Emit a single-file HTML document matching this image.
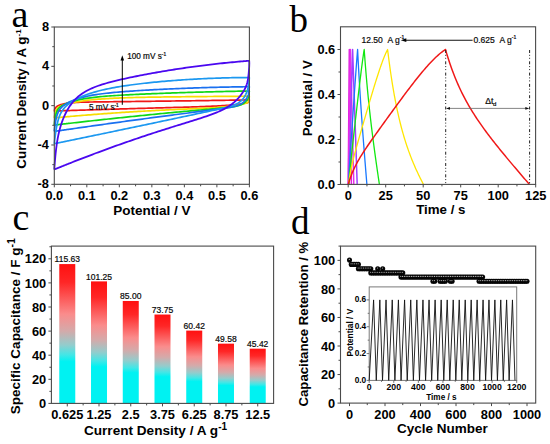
<!DOCTYPE html>
<html><head><meta charset="utf-8"><style>
html,body{margin:0;padding:0;background:#fff;width:550px;height:444px;overflow:hidden}
svg{display:block}
text{font-family:"Liberation Sans",sans-serif}
</style></head><body>
<svg width="550" height="444" viewBox="0 0 550 444">
<rect width="550" height="444" fill="#fff"/>
<path d="M54.30,110.86 L54.40,110.35 L54.50,110.03 L54.60,109.74 L54.70,109.47 L54.80,109.22 L54.90,108.98 L55.00,108.77 L55.10,108.57 L55.20,108.38 L55.30,108.21 L55.40,108.04 L55.50,107.89 L55.60,107.75 L55.70,107.62 L55.80,107.49 L55.90,107.37 L56.00,107.26 L56.10,107.15 L56.20,107.05 L56.30,106.95 L56.40,106.86 L56.50,106.77 L56.60,106.69 L56.70,106.61 L56.80,106.53 L56.90,106.46 L57.00,106.39 L57.10,106.32 L57.20,106.26 L57.30,106.19 L57.40,106.13 L57.50,106.07 L57.60,106.01 L57.70,105.96 L57.80,105.90 L57.90,105.85 L58.00,105.80 L58.10,105.74 L58.20,105.70 L58.30,105.65 L58.40,105.60 L58.50,105.55 L58.60,105.51 L58.70,105.46 L58.80,105.42 L58.90,105.38 L59.00,105.33 L59.10,105.29 L59.20,105.25 L59.30,105.21 L59.40,105.17 L59.50,105.13 L59.60,105.09 L59.70,105.06 L59.80,105.02 L59.90,104.98 L60.00,104.95 L60.10,104.91 L60.20,104.88 L60.30,104.84 L60.80,104.68 L61.30,104.52 L61.80,104.38 L62.30,104.24 L62.80,104.12 L63.30,103.99 L63.80,103.88 L64.30,103.78 L64.80,103.68 L65.30,103.58 L65.80,103.49 L66.30,103.41 L66.80,103.33 L67.30,103.25 L67.80,103.18 L68.30,103.12 L68.80,103.06 L69.30,103.00 L69.80,102.94 L70.30,102.89 L72.30,102.70 L74.30,102.56 L76.30,102.44 L78.30,102.34 L80.30,102.26 L82.30,102.20 L84.30,102.14 L86.30,102.09 L88.30,102.05 L90.30,102.02 L92.30,101.98 L94.30,101.95 L96.30,101.92 L98.30,101.90 L100.30,101.87 L102.30,101.85 L104.30,101.82 L106.30,101.80 L108.30,101.78 L110.30,101.76 L112.30,101.73 L114.30,101.71 L116.30,101.69 L118.30,101.67 L120.30,101.65 L122.30,101.62 L124.30,101.60 L126.30,101.58 L128.30,101.56 L130.30,101.53 L132.30,101.51 L134.30,101.49 L136.30,101.46 L138.30,101.44 L140.30,101.42 L142.30,101.39 L144.30,101.37 L146.30,101.35 L148.30,101.32 L150.30,101.30 L152.30,101.27 L154.30,101.25 L156.30,101.22 L158.30,101.20 L160.30,101.18 L162.30,101.15 L164.30,101.12 L166.30,101.10 L168.30,101.07 L170.30,101.05 L172.30,101.02 L174.30,101.00 L176.30,100.97 L178.30,100.94 L180.30,100.92 L182.30,100.89 L184.30,100.86 L186.30,100.84 L188.30,100.81 L190.30,100.78 L192.30,100.75 L194.30,100.73 L196.30,100.70 L198.30,100.67 L200.30,100.64 L202.30,100.61 L204.30,100.58 L206.30,100.56 L208.30,100.53 L210.30,100.50 L212.30,100.47 L214.30,100.44 L216.30,100.41 L218.30,100.38 L220.30,100.35 L222.30,100.32 L224.30,100.29 L226.30,100.26 L228.30,100.23 L230.30,100.20 L232.30,100.17 L234.30,100.14 L236.30,100.11 L238.30,100.07 L240.30,100.04 L240.80,100.04 L241.30,100.03 L241.80,100.02 L242.30,100.01 L242.80,100.00 L243.30,100.00 L243.80,99.99 L244.30,99.98 L244.80,99.97 L245.30,99.96 L245.80,99.96 L246.30,99.95 L246.80,99.94 L247.30,99.93 L247.40,99.93 L247.50,99.93 L247.60,99.93 L247.70,99.93 L247.80,99.92 L247.90,99.92 L248.00,99.92 L248.10,99.92 L248.20,99.92 L248.30,99.92 L248.40,99.91 L248.50,99.91 L248.60,99.91 L248.70,99.91 L248.80,99.91 L248.90,99.91 L249.00,99.90 L249.10,99.90 L249.20,99.90 L249.30,100.00 L249.20,100.54 L249.10,100.89 L249.00,101.19 L248.90,101.44 L248.80,101.64 L248.70,101.82 L248.60,101.96 L248.50,102.09 L248.40,102.19 L248.30,102.28 L248.20,102.36 L248.10,102.42 L248.00,102.48 L247.90,102.53 L247.80,102.58 L247.70,102.62 L247.60,102.66 L247.50,102.70 L247.40,102.73 L247.30,102.76 L246.80,102.89 L246.30,102.99 L245.80,103.10 L245.30,103.19 L244.80,103.28 L244.30,103.37 L243.80,103.46 L243.30,103.54 L242.80,103.63 L242.30,103.71 L241.80,103.78 L241.30,103.86 L240.80,103.93 L240.30,104.00 L238.30,104.27 L236.30,104.52 L234.30,104.74 L232.30,104.94 L230.30,105.12 L228.30,105.28 L226.30,105.43 L224.30,105.57 L222.30,105.70 L220.30,105.82 L218.30,105.93 L216.30,106.03 L214.30,106.13 L212.30,106.22 L210.30,106.31 L208.30,106.39 L206.30,106.47 L204.30,106.54 L202.30,106.61 L200.30,106.68 L198.30,106.75 L196.30,106.81 L194.30,106.88 L192.30,106.94 L190.30,107.00 L188.30,107.06 L186.30,107.12 L184.30,107.18 L182.30,107.23 L180.30,107.29 L178.30,107.35 L176.30,107.40 L174.30,107.46 L172.30,107.51 L170.30,107.57 L168.30,107.62 L166.30,107.68 L164.30,107.73 L162.30,107.79 L160.30,107.84 L158.30,107.90 L156.30,107.95 L154.30,108.01 L152.30,108.06 L150.30,108.12 L148.30,108.17 L146.30,108.23 L144.30,108.28 L142.30,108.34 L140.30,108.40 L138.30,108.45 L136.30,108.51 L134.30,108.57 L132.30,108.62 L130.30,108.68 L128.30,108.74 L126.30,108.79 L124.30,108.85 L122.30,108.91 L120.30,108.97 L118.30,109.03 L116.30,109.09 L114.30,109.15 L112.30,109.20 L110.30,109.26 L108.30,109.32 L106.30,109.38 L104.30,109.44 L102.30,109.51 L100.30,109.57 L98.30,109.63 L96.30,109.69 L94.30,109.75 L92.30,109.81 L90.30,109.87 L88.30,109.94 L86.30,110.00 L84.30,110.06 L82.30,110.13 L80.30,110.19 L78.30,110.25 L76.30,110.32 L74.30,110.38 L72.30,110.44 L70.30,110.51 L69.80,110.53 L69.30,110.54 L68.80,110.56 L68.30,110.57 L67.80,110.59 L67.30,110.61 L66.80,110.62 L66.30,110.64 L65.80,110.66 L65.30,110.67 L64.80,110.69 L64.30,110.70 L63.80,110.72 L63.30,110.74 L62.80,110.75 L62.30,110.77 L61.80,110.79 L61.30,110.80 L60.80,110.82 L60.30,110.84 L60.20,110.84 L60.10,110.84 L60.00,110.85 L59.90,110.85 L59.80,110.85 L59.70,110.86 L59.60,110.86 L59.50,110.86 L59.40,110.87 L59.30,110.87 L59.20,110.87 L59.10,110.88 L59.00,110.88 L58.90,110.88 L58.80,110.89 L58.70,110.89 L58.60,110.89 L58.50,110.90 L58.40,110.90 L58.30,110.90 L58.20,110.91 L58.10,110.91 L58.00,110.91 L57.90,110.92 L57.80,110.92 L57.70,110.92 L57.60,110.93 L57.50,110.93 L57.40,110.93 L57.30,110.94 L57.20,110.94 L57.10,110.94 L57.00,110.95 L56.90,110.95 L56.80,110.95 L56.70,110.96 L56.60,110.96 L56.50,110.96 L56.40,110.97 L56.30,110.97 L56.20,110.97 L56.10,110.98 L56.00,110.98 L55.90,110.98 L55.80,110.99 L55.70,110.99 L55.60,110.99 L55.50,111.00 L55.40,111.00 L55.30,111.00 L55.20,111.01 L55.10,111.01 L55.00,111.01 L54.90,111.02 L54.80,111.02 L54.70,111.02 L54.60,111.03 L54.50,111.03 L54.40,111.03 L54.30,110.86" fill="none" stroke="#f01818" stroke-width="1.7" stroke-linejoin="round" />
<path d="M54.30,117.91 L54.40,117.25 L54.50,116.63 L54.60,116.05 L54.70,115.50 L54.80,114.98 L54.90,114.50 L55.00,114.04 L55.10,113.61 L55.20,113.21 L55.30,112.82 L55.40,112.47 L55.50,112.13 L55.60,111.81 L55.70,111.51 L55.80,111.22 L55.90,110.96 L56.00,110.70 L56.10,110.46 L56.20,110.24 L56.30,110.02 L56.40,109.82 L56.50,109.63 L56.60,109.45 L56.70,109.27 L56.80,109.11 L56.90,108.95 L57.00,108.81 L57.10,108.66 L57.20,108.53 L57.30,108.40 L57.40,108.28 L57.50,108.16 L57.60,108.05 L57.70,107.95 L57.80,107.85 L57.90,107.75 L58.00,107.65 L58.10,107.57 L58.20,107.48 L58.30,107.40 L58.40,107.32 L58.50,107.24 L58.60,107.17 L58.70,107.09 L58.80,107.03 L58.90,106.96 L59.00,106.89 L59.10,106.83 L59.20,106.77 L59.30,106.71 L59.40,106.65 L59.50,106.60 L59.60,106.54 L59.70,106.49 L59.80,106.44 L59.90,106.39 L60.00,106.34 L60.10,106.29 L60.20,106.24 L60.30,106.20 L60.80,105.98 L61.30,105.78 L61.80,105.59 L62.30,105.41 L62.80,105.25 L63.30,105.08 L63.80,104.93 L64.30,104.78 L64.80,104.63 L65.30,104.48 L65.80,104.34 L66.30,104.21 L66.80,104.07 L67.30,103.94 L67.80,103.81 L68.30,103.68 L68.80,103.56 L69.30,103.44 L69.80,103.32 L70.30,103.20 L72.30,102.76 L74.30,102.35 L76.30,101.97 L78.30,101.61 L80.30,101.29 L82.30,100.98 L84.30,100.70 L86.30,100.44 L88.30,100.20 L90.30,99.97 L92.30,99.76 L94.30,99.57 L96.30,99.39 L98.30,99.22 L100.30,99.06 L102.30,98.91 L104.30,98.78 L106.30,98.65 L108.30,98.53 L110.30,98.42 L112.30,98.32 L114.30,98.22 L116.30,98.13 L118.30,98.05 L120.30,97.97 L122.30,97.89 L124.30,97.82 L126.30,97.75 L128.30,97.69 L130.30,97.63 L132.30,97.58 L134.30,97.52 L136.30,97.47 L138.30,97.43 L140.30,97.38 L142.30,97.34 L144.30,97.30 L146.30,97.26 L148.30,97.22 L150.30,97.19 L152.30,97.15 L154.30,97.12 L156.30,97.09 L158.30,97.06 L160.30,97.03 L162.30,97.00 L164.30,96.97 L166.30,96.95 L168.30,96.92 L170.30,96.90 L172.30,96.87 L174.30,96.85 L176.30,96.82 L178.30,96.80 L180.30,96.78 L182.30,96.76 L184.30,96.74 L186.30,96.72 L188.30,96.70 L190.30,96.68 L192.30,96.66 L194.30,96.64 L196.30,96.62 L198.30,96.60 L200.30,96.58 L202.30,96.56 L204.30,96.55 L206.30,96.53 L208.30,96.51 L210.30,96.49 L212.30,96.48 L214.30,96.46 L216.30,96.44 L218.30,96.43 L220.30,96.41 L222.30,96.39 L224.30,96.38 L226.30,96.36 L228.30,96.34 L230.30,96.33 L232.30,96.31 L234.30,96.30 L236.30,96.28 L238.30,96.26 L240.30,96.25 L240.80,96.25 L241.30,96.24 L241.80,96.24 L242.30,96.23 L242.80,96.23 L243.30,96.23 L243.80,96.22 L244.30,96.22 L244.80,96.21 L245.30,96.21 L245.80,96.21 L246.30,96.20 L246.80,96.20 L247.30,96.19 L247.40,96.19 L247.50,96.19 L247.60,96.19 L247.70,96.19 L247.80,96.19 L247.90,96.19 L248.00,96.19 L248.10,96.19 L248.20,96.19 L248.30,96.19 L248.40,96.19 L248.50,96.19 L248.60,96.18 L248.70,96.18 L248.80,96.18 L248.90,96.18 L249.00,96.18 L249.10,96.18 L249.20,96.18 L249.30,96.36 L249.20,97.59 L249.10,98.46 L249.00,99.17 L248.90,99.76 L248.80,100.24 L248.70,100.65 L248.60,100.99 L248.50,101.27 L248.40,101.51 L248.30,101.71 L248.20,101.88 L248.10,102.02 L248.00,102.14 L247.90,102.25 L247.80,102.35 L247.70,102.43 L247.60,102.50 L247.50,102.57 L247.40,102.63 L247.30,102.68 L246.80,102.90 L246.30,103.07 L245.80,103.23 L245.30,103.37 L244.80,103.51 L244.30,103.64 L243.80,103.77 L243.30,103.90 L242.80,104.02 L242.30,104.14 L241.80,104.25 L241.30,104.37 L240.80,104.48 L240.30,104.58 L238.30,104.98 L236.30,105.33 L234.30,105.65 L232.30,105.94 L230.30,106.20 L228.30,106.44 L226.30,106.65 L224.30,106.85 L222.30,107.02 L220.30,107.19 L218.30,107.34 L216.30,107.49 L214.30,107.62 L212.30,107.74 L210.30,107.86 L208.30,107.98 L206.30,108.08 L204.30,108.19 L202.30,108.29 L200.30,108.39 L198.30,108.48 L196.30,108.58 L194.30,108.67 L192.30,108.76 L190.30,108.85 L188.30,108.94 L186.30,109.03 L184.30,109.12 L182.30,109.21 L180.30,109.30 L178.30,109.39 L176.30,109.49 L174.30,109.58 L172.30,109.67 L170.30,109.77 L168.30,109.86 L166.30,109.96 L164.30,110.06 L162.30,110.16 L160.30,110.26 L158.30,110.36 L156.30,110.46 L154.30,110.57 L152.30,110.67 L150.30,110.78 L148.30,110.89 L146.30,111.00 L144.30,111.11 L142.30,111.23 L140.30,111.34 L138.30,111.46 L136.30,111.58 L134.30,111.70 L132.30,111.82 L130.30,111.95 L128.30,112.07 L126.30,112.20 L124.30,112.33 L122.30,112.46 L120.30,112.59 L118.30,112.73 L116.30,112.86 L114.30,113.00 L112.30,113.14 L110.30,113.28 L108.30,113.42 L106.30,113.56 L104.30,113.71 L102.30,113.86 L100.30,114.01 L98.30,114.16 L96.30,114.31 L94.30,114.46 L92.30,114.62 L90.30,114.78 L88.30,114.93 L86.30,115.10 L84.30,115.26 L82.30,115.42 L80.30,115.59 L78.30,115.76 L76.30,115.93 L74.30,116.10 L72.30,116.27 L70.30,116.44 L69.80,116.49 L69.30,116.53 L68.80,116.58 L68.30,116.62 L67.80,116.66 L67.30,116.71 L66.80,116.75 L66.30,116.80 L65.80,116.84 L65.30,116.89 L64.80,116.93 L64.30,116.98 L63.80,117.02 L63.30,117.07 L62.80,117.11 L62.30,117.16 L61.80,117.20 L61.30,117.25 L60.80,117.29 L60.30,117.34 L60.20,117.35 L60.10,117.36 L60.00,117.37 L59.90,117.38 L59.80,117.39 L59.70,117.40 L59.60,117.41 L59.50,117.41 L59.40,117.42 L59.30,117.43 L59.20,117.44 L59.10,117.45 L59.00,117.46 L58.90,117.47 L58.80,117.48 L58.70,117.49 L58.60,117.50 L58.50,117.51 L58.40,117.52 L58.30,117.53 L58.20,117.53 L58.10,117.54 L58.00,117.55 L57.90,117.56 L57.80,117.57 L57.70,117.58 L57.60,117.59 L57.50,117.60 L57.40,117.61 L57.30,117.62 L57.20,117.63 L57.10,117.64 L57.00,117.65 L56.90,117.66 L56.80,117.67 L56.70,117.67 L56.60,117.68 L56.50,117.69 L56.40,117.70 L56.30,117.71 L56.20,117.72 L56.10,117.73 L56.00,117.74 L55.90,117.75 L55.80,117.76 L55.70,117.77 L55.60,117.78 L55.50,117.79 L55.40,117.80 L55.30,117.81 L55.20,117.81 L55.10,117.82 L55.00,117.83 L54.90,117.84 L54.80,117.85 L54.70,117.86 L54.60,117.87 L54.50,117.88 L54.40,117.89 L54.30,117.91" fill="none" stroke="#f8dc00" stroke-width="1.7" stroke-linejoin="round" />
<path d="M54.30,125.12 L54.40,124.16 L54.50,123.21 L54.60,122.31 L54.70,121.47 L54.80,120.67 L54.90,119.93 L55.00,119.22 L55.10,118.56 L55.20,117.94 L55.30,117.35 L55.40,116.79 L55.50,116.27 L55.60,115.77 L55.70,115.30 L55.80,114.86 L55.90,114.45 L56.00,114.05 L56.10,113.68 L56.20,113.32 L56.30,112.99 L56.40,112.67 L56.50,112.36 L56.60,112.08 L56.70,111.80 L56.80,111.55 L56.90,111.30 L57.00,111.06 L57.10,110.84 L57.20,110.63 L57.30,110.42 L57.40,110.23 L57.50,110.04 L57.60,109.86 L57.70,109.69 L57.80,109.53 L57.90,109.37 L58.00,109.22 L58.10,109.07 L58.20,108.93 L58.30,108.80 L58.40,108.67 L58.50,108.54 L58.60,108.42 L58.70,108.31 L58.80,108.19 L58.90,108.08 L59.00,107.98 L59.10,107.87 L59.20,107.77 L59.30,107.68 L59.40,107.58 L59.50,107.49 L59.60,107.40 L59.70,107.31 L59.80,107.23 L59.90,107.14 L60.00,107.06 L60.10,106.98 L60.20,106.90 L60.30,106.83 L60.80,106.47 L61.30,106.13 L61.80,105.82 L62.30,105.53 L62.80,105.26 L63.30,104.99 L63.80,104.74 L64.30,104.50 L64.80,104.26 L65.30,104.03 L65.80,103.81 L66.30,103.60 L66.80,103.39 L67.30,103.19 L67.80,103.00 L68.30,102.81 L68.80,102.62 L69.30,102.44 L69.80,102.27 L70.30,102.09 L72.30,101.45 L74.30,100.88 L76.30,100.36 L78.30,99.88 L80.30,99.45 L82.30,99.06 L84.30,98.71 L86.30,98.38 L88.30,98.08 L90.30,97.80 L92.30,97.55 L94.30,97.31 L96.30,97.09 L98.30,96.88 L100.30,96.69 L102.30,96.51 L104.30,96.34 L106.30,96.18 L108.30,96.02 L110.30,95.88 L112.30,95.74 L114.30,95.61 L116.30,95.48 L118.30,95.35 L120.30,95.24 L122.30,95.12 L124.30,95.01 L126.30,94.90 L128.30,94.80 L130.30,94.70 L132.30,94.60 L134.30,94.50 L136.30,94.41 L138.30,94.31 L140.30,94.22 L142.30,94.13 L144.30,94.05 L146.30,93.96 L148.30,93.88 L150.30,93.79 L152.30,93.71 L154.30,93.63 L156.30,93.56 L158.30,93.48 L160.30,93.40 L162.30,93.33 L164.30,93.25 L166.30,93.18 L168.30,93.11 L170.30,93.04 L172.30,92.97 L174.30,92.90 L176.30,92.83 L178.30,92.76 L180.30,92.70 L182.30,92.63 L184.30,92.57 L186.30,92.51 L188.30,92.45 L190.30,92.39 L192.30,92.33 L194.30,92.27 L196.30,92.21 L198.30,92.15 L200.30,92.10 L202.30,92.04 L204.30,91.99 L206.30,91.93 L208.30,91.88 L210.30,91.83 L212.30,91.78 L214.30,91.73 L216.30,91.68 L218.30,91.63 L220.30,91.59 L222.30,91.54 L224.30,91.50 L226.30,91.45 L228.30,91.41 L230.30,91.37 L232.30,91.33 L234.30,91.29 L236.30,91.25 L238.30,91.21 L240.30,91.17 L240.80,91.16 L241.30,91.15 L241.80,91.14 L242.30,91.13 L242.80,91.12 L243.30,91.11 L243.80,91.11 L244.30,91.10 L244.80,91.09 L245.30,91.08 L245.80,91.07 L246.30,91.06 L246.80,91.05 L247.30,91.04 L247.40,91.04 L247.50,91.04 L247.60,91.04 L247.70,91.04 L247.80,91.04 L247.90,91.03 L248.00,91.03 L248.10,91.03 L248.20,91.03 L248.30,91.03 L248.40,91.03 L248.50,91.02 L248.60,91.02 L248.70,91.02 L248.80,91.02 L248.90,91.02 L249.00,91.02 L249.10,91.01 L249.20,91.01 L249.30,91.18 L249.20,92.48 L249.10,93.44 L249.00,94.26 L248.90,94.96 L248.80,95.56 L248.70,96.08 L248.60,96.54 L248.50,96.94 L248.40,97.30 L248.30,97.61 L248.20,97.90 L248.10,98.16 L248.00,98.40 L247.90,98.62 L247.80,98.82 L247.70,99.02 L247.60,99.20 L247.50,99.37 L247.40,99.53 L247.30,99.68 L246.80,100.38 L246.30,100.98 L245.80,101.51 L245.30,101.99 L244.80,102.43 L244.30,102.83 L243.80,103.20 L243.30,103.53 L242.80,103.84 L242.30,104.12 L241.80,104.38 L241.30,104.62 L240.80,104.84 L240.30,105.04 L238.30,105.71 L236.30,106.21 L234.30,106.60 L232.30,106.92 L230.30,107.19 L228.30,107.43 L226.30,107.64 L224.30,107.84 L222.30,108.03 L220.30,108.22 L218.30,108.40 L216.30,108.57 L214.30,108.75 L212.30,108.93 L210.30,109.10 L208.30,109.28 L206.30,109.46 L204.30,109.63 L202.30,109.81 L200.30,109.99 L198.30,110.17 L196.30,110.35 L194.30,110.53 L192.30,110.71 L190.30,110.89 L188.30,111.07 L186.30,111.26 L184.30,111.44 L182.30,111.63 L180.30,111.81 L178.30,112.00 L176.30,112.19 L174.30,112.37 L172.30,112.56 L170.30,112.75 L168.30,112.94 L166.30,113.13 L164.30,113.33 L162.30,113.52 L160.30,113.71 L158.30,113.91 L156.30,114.10 L154.30,114.30 L152.30,114.49 L150.30,114.69 L148.30,114.89 L146.30,115.09 L144.30,115.29 L142.30,115.49 L140.30,115.69 L138.30,115.89 L136.30,116.09 L134.30,116.30 L132.30,116.50 L130.30,116.71 L128.30,116.91 L126.30,117.12 L124.30,117.33 L122.30,117.54 L120.30,117.74 L118.30,117.95 L116.30,118.16 L114.30,118.38 L112.30,118.59 L110.30,118.80 L108.30,119.01 L106.30,119.23 L104.30,119.44 L102.30,119.66 L100.30,119.88 L98.30,120.09 L96.30,120.31 L94.30,120.53 L92.30,120.75 L90.30,120.97 L88.30,121.19 L86.30,121.41 L84.30,121.64 L82.30,121.86 L80.30,122.08 L78.30,122.31 L76.30,122.54 L74.30,122.76 L72.30,122.99 L70.30,123.22 L69.80,123.28 L69.30,123.33 L68.80,123.39 L68.30,123.45 L67.80,123.50 L67.30,123.56 L66.80,123.62 L66.30,123.68 L65.80,123.73 L65.30,123.79 L64.80,123.85 L64.30,123.91 L63.80,123.96 L63.30,124.02 L62.80,124.08 L62.30,124.14 L61.80,124.20 L61.30,124.25 L60.80,124.31 L60.30,124.37 L60.20,124.38 L60.10,124.39 L60.00,124.41 L59.90,124.42 L59.80,124.43 L59.70,124.44 L59.60,124.45 L59.50,124.46 L59.40,124.48 L59.30,124.49 L59.20,124.50 L59.10,124.51 L59.00,124.52 L58.90,124.53 L58.80,124.55 L58.70,124.56 L58.60,124.57 L58.50,124.58 L58.40,124.59 L58.30,124.60 L58.20,124.62 L58.10,124.63 L58.00,124.64 L57.90,124.65 L57.80,124.66 L57.70,124.67 L57.60,124.69 L57.50,124.70 L57.40,124.71 L57.30,124.72 L57.20,124.73 L57.10,124.74 L57.00,124.76 L56.90,124.77 L56.80,124.78 L56.70,124.79 L56.60,124.80 L56.50,124.81 L56.40,124.83 L56.30,124.84 L56.20,124.85 L56.10,124.86 L56.00,124.87 L55.90,124.88 L55.80,124.90 L55.70,124.91 L55.60,124.92 L55.50,124.93 L55.40,124.94 L55.30,124.95 L55.20,124.97 L55.10,124.98 L55.00,124.99 L54.90,125.00 L54.80,125.01 L54.70,125.02 L54.60,125.04 L54.50,125.05 L54.40,125.06 L54.30,125.12" fill="none" stroke="#10d818" stroke-width="1.7" stroke-linejoin="round" />
<path d="M54.30,131.36 L54.40,130.33 L54.50,129.39 L54.60,128.50 L54.70,127.65 L54.80,126.83 L54.90,126.05 L55.00,125.30 L55.10,124.59 L55.20,123.90 L55.30,123.24 L55.40,122.61 L55.50,122.01 L55.60,121.43 L55.70,120.88 L55.80,120.34 L55.90,119.83 L56.00,119.34 L56.10,118.87 L56.20,118.42 L56.30,117.98 L56.40,117.56 L56.50,117.16 L56.60,116.77 L56.70,116.40 L56.80,116.04 L56.90,115.70 L57.00,115.37 L57.10,115.04 L57.20,114.74 L57.30,114.44 L57.40,114.15 L57.50,113.87 L57.60,113.60 L57.70,113.34 L57.80,113.09 L57.90,112.85 L58.00,112.61 L58.10,112.39 L58.20,112.17 L58.30,111.95 L58.40,111.75 L58.50,111.55 L58.60,111.35 L58.70,111.16 L58.80,110.98 L58.90,110.80 L59.00,110.62 L59.10,110.46 L59.20,110.29 L59.30,110.13 L59.40,109.97 L59.50,109.82 L59.60,109.67 L59.70,109.53 L59.80,109.39 L59.90,109.25 L60.00,109.11 L60.10,108.98 L60.20,108.85 L60.30,108.73 L60.80,108.13 L61.30,107.59 L61.80,107.10 L62.30,106.64 L62.80,106.21 L63.30,105.80 L63.80,105.42 L64.30,105.06 L64.80,104.71 L65.30,104.38 L65.80,104.06 L66.30,103.75 L66.80,103.46 L67.30,103.17 L67.80,102.89 L68.30,102.62 L68.80,102.36 L69.30,102.10 L69.80,101.86 L70.30,101.62 L72.30,100.72 L74.30,99.91 L76.30,99.17 L78.30,98.51 L80.30,97.90 L82.30,97.35 L84.30,96.85 L86.30,96.39 L88.30,95.96 L90.30,95.57 L92.30,95.21 L94.30,94.87 L96.30,94.56 L98.30,94.26 L100.30,93.99 L102.30,93.73 L104.30,93.49 L106.30,93.26 L108.30,93.04 L110.30,92.83 L112.30,92.64 L114.30,92.45 L116.30,92.27 L118.30,92.09 L120.30,91.92 L122.30,91.76 L124.30,91.61 L126.30,91.45 L128.30,91.31 L130.30,91.16 L132.30,91.03 L134.30,90.89 L136.30,90.76 L138.30,90.63 L140.30,90.51 L142.30,90.38 L144.30,90.26 L146.30,90.15 L148.30,90.03 L150.30,89.92 L152.30,89.81 L154.30,89.70 L156.30,89.60 L158.30,89.49 L160.30,89.39 L162.30,89.29 L164.30,89.20 L166.30,89.10 L168.30,89.01 L170.30,88.92 L172.30,88.83 L174.30,88.74 L176.30,88.65 L178.30,88.57 L180.30,88.49 L182.30,88.41 L184.30,88.33 L186.30,88.25 L188.30,88.18 L190.30,88.10 L192.30,88.03 L194.30,87.96 L196.30,87.89 L198.30,87.83 L200.30,87.76 L202.30,87.70 L204.30,87.64 L206.30,87.58 L208.30,87.52 L210.30,87.46 L212.30,87.41 L214.30,87.35 L216.30,87.30 L218.30,87.25 L220.30,87.20 L222.30,87.16 L224.30,87.11 L226.30,87.07 L228.30,87.03 L230.30,86.99 L232.30,86.95 L234.30,86.91 L236.30,86.88 L238.30,86.85 L240.30,86.82 L240.80,86.81 L241.30,86.80 L241.80,86.79 L242.30,86.79 L242.80,86.78 L243.30,86.77 L243.80,86.77 L244.30,86.76 L244.80,86.75 L245.30,86.75 L245.80,86.74 L246.30,86.73 L246.80,86.73 L247.30,86.72 L247.40,86.72 L247.50,86.72 L247.60,86.72 L247.70,86.71 L247.80,86.71 L247.90,86.71 L248.00,86.71 L248.10,86.71 L248.20,86.71 L248.30,86.71 L248.40,86.71 L248.50,86.71 L248.60,86.70 L248.70,86.70 L248.80,86.70 L248.90,86.70 L249.00,86.70 L249.10,86.70 L249.20,86.70 L249.30,86.77 L249.20,88.15 L249.10,89.26 L249.00,90.21 L248.90,91.03 L248.80,91.74 L248.70,92.36 L248.60,92.91 L248.50,93.40 L248.40,93.83 L248.30,94.23 L248.20,94.59 L248.10,94.92 L248.00,95.22 L247.90,95.51 L247.80,95.77 L247.70,96.03 L247.60,96.26 L247.50,96.49 L247.40,96.71 L247.30,96.92 L246.80,97.86 L246.30,98.68 L245.80,99.42 L245.30,100.09 L244.80,100.70 L244.30,101.25 L243.80,101.76 L243.30,102.23 L242.80,102.66 L242.30,103.05 L241.80,103.41 L241.30,103.74 L240.80,104.05 L240.30,104.33 L238.30,105.27 L236.30,105.98 L234.30,106.54 L232.30,107.00 L230.30,107.39 L228.30,107.73 L226.30,108.04 L224.30,108.33 L222.30,108.61 L220.30,108.87 L218.30,109.14 L216.30,109.39 L214.30,109.65 L212.30,109.91 L210.30,110.16 L208.30,110.41 L206.30,110.67 L204.30,110.92 L202.30,111.18 L200.30,111.43 L198.30,111.69 L196.30,111.94 L194.30,112.20 L192.30,112.45 L190.30,112.71 L188.30,112.97 L186.30,113.23 L184.30,113.48 L182.30,113.74 L180.30,114.00 L178.30,114.26 L176.30,114.52 L174.30,114.78 L172.30,115.05 L170.30,115.31 L168.30,115.57 L166.30,115.83 L164.30,116.10 L162.30,116.36 L160.30,116.63 L158.30,116.89 L156.30,117.16 L154.30,117.43 L152.30,117.69 L150.30,117.96 L148.30,118.23 L146.30,118.50 L144.30,118.77 L142.30,119.04 L140.30,119.31 L138.30,119.58 L136.30,119.85 L134.30,120.12 L132.30,120.39 L130.30,120.66 L128.30,120.94 L126.30,121.21 L124.30,121.49 L122.30,121.76 L120.30,122.04 L118.30,122.31 L116.30,122.59 L114.30,122.87 L112.30,123.14 L110.30,123.42 L108.30,123.70 L106.30,123.98 L104.30,124.26 L102.30,124.54 L100.30,124.82 L98.30,125.10 L96.30,125.38 L94.30,125.67 L92.30,125.95 L90.30,126.23 L88.30,126.52 L86.30,126.80 L84.30,127.09 L82.30,127.37 L80.30,127.66 L78.30,127.94 L76.30,128.23 L74.30,128.52 L72.30,128.81 L70.30,129.10 L69.80,129.17 L69.30,129.24 L68.80,129.31 L68.30,129.38 L67.80,129.46 L67.30,129.53 L66.80,129.60 L66.30,129.67 L65.80,129.75 L65.30,129.82 L64.80,129.89 L64.30,129.96 L63.80,130.04 L63.30,130.11 L62.80,130.18 L62.30,130.26 L61.80,130.33 L61.30,130.40 L60.80,130.47 L60.30,130.55 L60.20,130.56 L60.10,130.58 L60.00,130.59 L59.90,130.60 L59.80,130.62 L59.70,130.63 L59.60,130.65 L59.50,130.66 L59.40,130.68 L59.30,130.69 L59.20,130.71 L59.10,130.72 L59.00,130.74 L58.90,130.75 L58.80,130.77 L58.70,130.78 L58.60,130.79 L58.50,130.81 L58.40,130.82 L58.30,130.84 L58.20,130.85 L58.10,130.87 L58.00,130.88 L57.90,130.90 L57.80,130.91 L57.70,130.93 L57.60,130.94 L57.50,130.96 L57.40,130.97 L57.30,130.98 L57.20,131.00 L57.10,131.01 L57.00,131.03 L56.90,131.04 L56.80,131.06 L56.70,131.07 L56.60,131.09 L56.50,131.10 L56.40,131.12 L56.30,131.13 L56.20,131.15 L56.10,131.16 L56.00,131.17 L55.90,131.19 L55.80,131.20 L55.70,131.22 L55.60,131.23 L55.50,131.25 L55.40,131.26 L55.30,131.28 L55.20,131.29 L55.10,131.31 L55.00,131.32 L54.90,131.34 L54.80,131.35 L54.70,131.37 L54.60,131.38 L54.50,131.39 L54.40,131.41 L54.30,131.36" fill="none" stroke="#1a70f0" stroke-width="1.7" stroke-linejoin="round" />
<path d="M54.30,143.83 L54.40,142.95 L54.50,141.97 L54.60,141.03 L54.70,140.12 L54.80,139.23 L54.90,138.37 L55.00,137.53 L55.10,136.72 L55.20,135.93 L55.30,135.16 L55.40,134.41 L55.50,133.69 L55.60,132.98 L55.70,132.30 L55.80,131.63 L55.90,130.98 L56.00,130.35 L56.10,129.74 L56.20,129.14 L56.30,128.56 L56.40,128.00 L56.50,127.45 L56.60,126.92 L56.70,126.40 L56.80,125.89 L56.90,125.40 L57.00,124.92 L57.10,124.45 L57.20,124.00 L57.30,123.56 L57.40,123.12 L57.50,122.70 L57.60,122.29 L57.70,121.89 L57.80,121.50 L57.90,121.12 L58.00,120.75 L58.10,120.39 L58.20,120.04 L58.30,119.70 L58.40,119.36 L58.50,119.03 L58.60,118.71 L58.70,118.40 L58.80,118.09 L58.90,117.79 L59.00,117.50 L59.10,117.22 L59.20,116.94 L59.30,116.67 L59.40,116.40 L59.50,116.14 L59.60,115.89 L59.70,115.64 L59.80,115.39 L59.90,115.15 L60.00,114.92 L60.10,114.69 L60.20,114.47 L60.30,114.25 L60.80,113.21 L61.30,112.27 L61.80,111.41 L62.30,110.62 L62.80,109.90 L63.30,109.22 L63.80,108.59 L64.30,108.01 L64.80,107.45 L65.30,106.93 L65.80,106.43 L66.30,105.96 L66.80,105.51 L67.30,105.07 L67.80,104.66 L68.30,104.26 L68.80,103.87 L69.30,103.50 L69.80,103.13 L70.30,102.78 L72.30,101.47 L74.30,100.27 L76.30,99.18 L78.30,98.16 L80.30,97.22 L82.30,96.35 L84.30,95.53 L86.30,94.76 L88.30,94.04 L90.30,93.37 L92.30,92.73 L94.30,92.13 L96.30,91.56 L98.30,91.03 L100.30,90.52 L102.30,90.03 L104.30,89.57 L106.30,89.13 L108.30,88.71 L110.30,88.30 L112.30,87.92 L114.30,87.55 L116.30,87.19 L118.30,86.85 L120.30,86.51 L122.30,86.20 L124.30,85.89 L126.30,85.59 L128.30,85.30 L130.30,85.02 L132.30,84.75 L134.30,84.49 L136.30,84.23 L138.30,83.98 L140.30,83.74 L142.30,83.51 L144.30,83.28 L146.30,83.05 L148.30,82.84 L150.30,82.63 L152.30,82.42 L154.30,82.22 L156.30,82.03 L158.30,81.84 L160.30,81.65 L162.30,81.47 L164.30,81.29 L166.30,81.12 L168.30,80.95 L170.30,80.79 L172.30,80.63 L174.30,80.48 L176.30,80.33 L178.30,80.18 L180.30,80.04 L182.30,79.90 L184.30,79.77 L186.30,79.64 L188.30,79.52 L190.30,79.39 L192.30,79.28 L194.30,79.16 L196.30,79.05 L198.30,78.95 L200.30,78.84 L202.30,78.75 L204.30,78.65 L206.30,78.56 L208.30,78.47 L210.30,78.39 L212.30,78.31 L214.30,78.24 L216.30,78.16 L218.30,78.09 L220.30,78.03 L222.30,77.97 L224.30,77.91 L226.30,77.86 L228.30,77.81 L230.30,77.76 L232.30,77.72 L234.30,77.68 L236.30,77.65 L238.30,77.62 L240.30,77.59 L240.80,77.58 L241.30,77.58 L241.80,77.57 L242.30,77.57 L242.80,77.56 L243.30,77.55 L243.80,77.55 L244.30,77.55 L244.80,77.54 L245.30,77.54 L245.80,77.53 L246.30,77.53 L246.80,77.53 L247.30,77.52 L247.40,77.52 L247.50,77.52 L247.60,77.52 L247.70,77.52 L247.80,77.52 L247.90,77.52 L248.00,77.52 L248.10,77.52 L248.20,77.52 L248.30,77.52 L248.40,77.52 L248.50,77.51 L248.60,77.51 L248.70,77.51 L248.80,77.51 L248.90,77.51 L249.00,77.51 L249.10,77.51 L249.20,77.51 L249.30,77.70 L249.20,79.46 L249.10,80.80 L249.00,81.96 L248.90,82.97 L248.80,83.85 L248.70,84.63 L248.60,85.33 L248.50,85.95 L248.40,86.52 L248.30,87.03 L248.20,87.51 L248.10,87.95 L248.00,88.36 L247.90,88.74 L247.80,89.11 L247.70,89.45 L247.60,89.78 L247.50,90.10 L247.40,90.40 L247.30,90.70 L246.80,92.04 L246.30,93.22 L245.80,94.28 L245.30,95.25 L244.80,96.13 L244.30,96.94 L243.80,97.68 L243.30,98.37 L242.80,98.99 L242.30,99.57 L241.80,100.10 L241.30,100.60 L240.80,101.05 L240.30,101.48 L238.30,102.90 L236.30,103.99 L234.30,104.87 L232.30,105.60 L230.30,106.23 L228.30,106.79 L226.30,107.31 L224.30,107.81 L222.30,108.28 L220.30,108.74 L218.30,109.19 L216.30,109.63 L214.30,110.07 L212.30,110.50 L210.30,110.94 L208.30,111.37 L206.30,111.80 L204.30,112.23 L202.30,112.66 L200.30,113.09 L198.30,113.52 L196.30,113.95 L194.30,114.37 L192.30,114.80 L190.30,115.23 L188.30,115.66 L186.30,116.08 L184.30,116.51 L182.30,116.94 L180.30,117.36 L178.30,117.79 L176.30,118.22 L174.30,118.64 L172.30,119.07 L170.30,119.49 L168.30,119.92 L166.30,120.34 L164.30,120.77 L162.30,121.19 L160.30,121.61 L158.30,122.04 L156.30,122.46 L154.30,122.88 L152.30,123.31 L150.30,123.73 L148.30,124.15 L146.30,124.57 L144.30,124.99 L142.30,125.41 L140.30,125.84 L138.30,126.26 L136.30,126.68 L134.30,127.10 L132.30,127.52 L130.30,127.94 L128.30,128.36 L126.30,128.78 L124.30,129.20 L122.30,129.62 L120.30,130.03 L118.30,130.45 L116.30,130.87 L114.30,131.29 L112.30,131.71 L110.30,132.12 L108.30,132.54 L106.30,132.96 L104.30,133.37 L102.30,133.79 L100.30,134.21 L98.30,134.62 L96.30,135.04 L94.30,135.45 L92.30,135.87 L90.30,136.28 L88.30,136.70 L86.30,137.11 L84.30,137.53 L82.30,137.94 L80.30,138.35 L78.30,138.77 L76.30,139.18 L74.30,139.59 L72.30,140.01 L70.30,140.42 L69.80,140.52 L69.30,140.62 L68.80,140.73 L68.30,140.83 L67.80,140.93 L67.30,141.04 L66.80,141.14 L66.30,141.24 L65.80,141.35 L65.30,141.45 L64.80,141.55 L64.30,141.65 L63.80,141.76 L63.30,141.86 L62.80,141.96 L62.30,142.07 L61.80,142.17 L61.30,142.27 L60.80,142.37 L60.30,142.48 L60.20,142.50 L60.10,142.52 L60.00,142.54 L59.90,142.56 L59.80,142.58 L59.70,142.60 L59.60,142.62 L59.50,142.64 L59.40,142.66 L59.30,142.68 L59.20,142.70 L59.10,142.72 L59.00,142.74 L58.90,142.76 L58.80,142.78 L58.70,142.81 L58.60,142.83 L58.50,142.85 L58.40,142.87 L58.30,142.89 L58.20,142.91 L58.10,142.93 L58.00,142.95 L57.90,142.97 L57.80,142.99 L57.70,143.01 L57.60,143.03 L57.50,143.05 L57.40,143.07 L57.30,143.09 L57.20,143.11 L57.10,143.13 L57.00,143.15 L56.90,143.18 L56.80,143.20 L56.70,143.22 L56.60,143.24 L56.50,143.26 L56.40,143.28 L56.30,143.30 L56.20,143.32 L56.10,143.34 L56.00,143.36 L55.90,143.38 L55.80,143.40 L55.70,143.42 L55.60,143.44 L55.50,143.46 L55.40,143.48 L55.30,143.50 L55.20,143.52 L55.10,143.54 L55.00,143.56 L54.90,143.59 L54.80,143.61 L54.70,143.63 L54.60,143.65 L54.50,143.67 L54.40,143.69 L54.30,143.83" fill="none" stroke="#1c98f0" stroke-width="1.7" stroke-linejoin="round" />
<path d="M54.30,169.45 L54.40,167.94 L54.50,166.51 L54.60,165.14 L54.70,163.81 L54.80,162.53 L54.90,161.29 L55.00,160.10 L55.10,158.94 L55.20,157.82 L55.30,156.74 L55.40,155.70 L55.50,154.69 L55.60,153.71 L55.70,152.76 L55.80,151.83 L55.90,150.94 L56.00,150.08 L56.10,149.23 L56.20,148.42 L56.30,147.62 L56.40,146.85 L56.50,146.10 L56.60,145.37 L56.70,144.66 L56.80,143.97 L56.90,143.30 L57.00,142.64 L57.10,142.00 L57.20,141.37 L57.30,140.76 L57.40,140.17 L57.50,139.59 L57.60,139.02 L57.70,138.46 L57.80,137.92 L57.90,137.39 L58.00,136.87 L58.10,136.36 L58.20,135.86 L58.30,135.37 L58.40,134.89 L58.50,134.42 L58.60,133.96 L58.70,133.51 L58.80,133.07 L58.90,132.63 L59.00,132.20 L59.10,131.78 L59.20,131.37 L59.30,130.96 L59.40,130.56 L59.50,130.17 L59.60,129.78 L59.70,129.40 L59.80,129.03 L59.90,128.66 L60.00,128.29 L60.10,127.94 L60.20,127.58 L60.30,127.23 L60.80,125.56 L61.30,123.99 L61.80,122.51 L62.30,121.11 L62.80,119.78 L63.30,118.52 L63.80,117.31 L64.30,116.16 L64.80,115.06 L65.30,114.00 L65.80,112.98 L66.30,112.01 L66.80,111.07 L67.30,110.16 L67.80,109.29 L68.30,108.45 L68.80,107.64 L69.30,106.86 L69.80,106.11 L70.30,105.38 L72.30,102.71 L74.30,100.37 L76.30,98.32 L78.30,96.51 L80.30,94.90 L82.30,93.46 L84.30,92.17 L86.30,91.00 L88.30,89.94 L90.30,88.97 L92.30,88.08 L94.30,87.26 L96.30,86.49 L98.30,85.77 L100.30,85.09 L102.30,84.45 L104.30,83.84 L106.30,83.25 L108.30,82.69 L110.30,82.15 L112.30,81.63 L114.30,81.12 L116.30,80.63 L118.30,80.15 L120.30,79.69 L122.30,79.23 L124.30,78.78 L126.30,78.34 L128.30,77.91 L130.30,77.48 L132.30,77.07 L134.30,76.65 L136.30,76.25 L138.30,75.85 L140.30,75.46 L142.30,75.07 L144.30,74.69 L146.30,74.31 L148.30,73.93 L150.30,73.57 L152.30,73.20 L154.30,72.84 L156.30,72.49 L158.30,72.14 L160.30,71.79 L162.30,71.45 L164.30,71.12 L166.30,70.78 L168.30,70.46 L170.30,70.13 L172.30,69.81 L174.30,69.50 L176.30,69.19 L178.30,68.88 L180.30,68.58 L182.30,68.28 L184.30,67.99 L186.30,67.70 L188.30,67.42 L190.30,67.14 L192.30,66.86 L194.30,66.59 L196.30,66.32 L198.30,66.06 L200.30,65.80 L202.30,65.54 L204.30,65.29 L206.30,65.05 L208.30,64.80 L210.30,64.57 L212.30,64.33 L214.30,64.10 L216.30,63.88 L218.30,63.66 L220.30,63.44 L222.30,63.23 L224.30,63.02 L226.30,62.82 L228.30,62.62 L230.30,62.42 L232.30,62.23 L234.30,62.04 L236.30,61.86 L238.30,61.68 L240.30,61.51 L240.80,61.46 L241.30,61.42 L241.80,61.38 L242.30,61.34 L242.80,61.29 L243.30,61.25 L243.80,61.21 L244.30,61.17 L244.80,61.13 L245.30,61.09 L245.80,61.05 L246.30,61.01 L246.80,60.97 L247.30,60.93 L247.40,60.92 L247.50,60.91 L247.60,60.91 L247.70,60.90 L247.80,60.89 L247.90,60.88 L248.00,60.87 L248.10,60.87 L248.20,60.86 L248.30,60.85 L248.40,60.84 L248.50,60.84 L248.60,60.83 L248.70,60.82 L248.80,60.81 L248.90,60.80 L249.00,60.80 L249.10,60.79 L249.20,60.78 L249.30,62.93 L249.20,66.75 L249.10,68.27 L249.00,69.67 L248.90,70.95 L248.80,72.14 L248.70,73.23 L248.60,74.24 L248.50,75.17 L248.40,76.03 L248.30,76.83 L248.20,77.57 L248.10,78.27 L248.00,78.91 L247.90,79.51 L247.80,80.08 L247.70,80.61 L247.60,81.11 L247.50,81.58 L247.40,82.02 L247.30,82.44 L246.80,84.24 L246.30,85.70 L245.80,86.93 L245.30,88.01 L244.80,89.00 L244.30,89.91 L243.80,90.76 L243.30,91.57 L242.80,92.35 L242.30,93.09 L241.80,93.80 L241.30,94.49 L240.80,95.16 L240.30,95.80 L238.30,98.17 L236.30,100.26 L234.30,102.10 L232.30,103.75 L230.30,105.22 L228.30,106.56 L226.30,107.77 L224.30,108.88 L222.30,109.90 L220.30,110.85 L218.30,111.75 L216.30,112.59 L214.30,113.39 L212.30,114.15 L210.30,114.89 L208.30,115.60 L206.30,116.29 L204.30,116.96 L202.30,117.62 L200.30,118.27 L198.30,118.91 L196.30,119.54 L194.30,120.17 L192.30,120.80 L190.30,121.42 L188.30,122.04 L186.30,122.66 L184.30,123.28 L182.30,123.90 L180.30,124.52 L178.30,125.14 L176.30,125.76 L174.30,126.38 L172.30,127.01 L170.30,127.64 L168.30,128.27 L166.30,128.90 L164.30,129.53 L162.30,130.17 L160.30,130.81 L158.30,131.46 L156.30,132.10 L154.30,132.75 L152.30,133.41 L150.30,134.06 L148.30,134.72 L146.30,135.39 L144.30,136.05 L142.30,136.72 L140.30,137.39 L138.30,138.07 L136.30,138.75 L134.30,139.43 L132.30,140.12 L130.30,140.81 L128.30,141.50 L126.30,142.19 L124.30,142.89 L122.30,143.60 L120.30,144.30 L118.30,145.01 L116.30,145.72 L114.30,146.44 L112.30,147.16 L110.30,147.88 L108.30,148.61 L106.30,149.34 L104.30,150.07 L102.30,150.80 L100.30,151.54 L98.30,152.29 L96.30,153.03 L94.30,153.78 L92.30,154.54 L90.30,155.29 L88.30,156.05 L86.30,156.81 L84.30,157.58 L82.30,158.35 L80.30,159.12 L78.30,159.90 L76.30,160.68 L74.30,161.46 L72.30,162.25 L70.30,163.04 L69.80,163.24 L69.30,163.43 L68.80,163.63 L68.30,163.83 L67.80,164.03 L67.30,164.23 L66.80,164.43 L66.30,164.63 L65.80,164.83 L65.30,165.03 L64.80,165.23 L64.30,165.43 L63.80,165.63 L63.30,165.83 L62.80,166.03 L62.30,166.23 L61.80,166.43 L61.30,166.63 L60.80,166.84 L60.30,167.04 L60.20,167.08 L60.10,167.12 L60.00,167.16 L59.90,167.20 L59.80,167.24 L59.70,167.28 L59.60,167.32 L59.50,167.36 L59.40,167.40 L59.30,167.44 L59.20,167.48 L59.10,167.52 L59.00,167.56 L58.90,167.60 L58.80,167.64 L58.70,167.69 L58.60,167.73 L58.50,167.77 L58.40,167.81 L58.30,167.85 L58.20,167.89 L58.10,167.93 L58.00,167.97 L57.90,168.01 L57.80,168.05 L57.70,168.09 L57.60,168.13 L57.50,168.17 L57.40,168.21 L57.30,168.25 L57.20,168.29 L57.10,168.34 L57.00,168.38 L56.90,168.42 L56.80,168.46 L56.70,168.50 L56.60,168.54 L56.50,168.58 L56.40,168.62 L56.30,168.66 L56.20,168.70 L56.10,168.74 L56.00,168.78 L55.90,168.82 L55.80,168.86 L55.70,168.91 L55.60,168.95 L55.50,168.99 L55.40,169.03 L55.30,169.07 L55.20,169.11 L55.10,169.15 L55.00,169.19 L54.90,169.23 L54.80,169.27 L54.70,169.31 L54.60,169.35 L54.50,169.40 L54.40,169.44 L54.30,169.45" fill="none" stroke="#4a08f0" stroke-width="1.8" stroke-linejoin="round" />
<rect x="54.30" y="27.00" width="195.10" height="157.30" fill="none" stroke="#4a4a4a" stroke-width="1.1"/>
<line x1="51.30" y1="184.30" x2="54.30" y2="184.30" stroke="#4a4a4a" stroke-width="1.0" />
<text x="49.00" y="188.40" font-size="12.8" font-weight="bold" text-anchor="end" fill="#000" >-8</text>
<line x1="52.30" y1="164.64" x2="54.30" y2="164.64" stroke="#4a4a4a" stroke-width="1.0" />
<line x1="51.30" y1="144.98" x2="54.30" y2="144.98" stroke="#4a4a4a" stroke-width="1.0" />
<text x="49.00" y="149.08" font-size="12.8" font-weight="bold" text-anchor="end" fill="#000" >-4</text>
<line x1="52.30" y1="125.31" x2="54.30" y2="125.31" stroke="#4a4a4a" stroke-width="1.0" />
<line x1="51.30" y1="105.65" x2="54.30" y2="105.65" stroke="#4a4a4a" stroke-width="1.0" />
<text x="49.00" y="109.75" font-size="12.8" font-weight="bold" text-anchor="end" fill="#000" >0</text>
<line x1="52.30" y1="85.99" x2="54.30" y2="85.99" stroke="#4a4a4a" stroke-width="1.0" />
<line x1="51.30" y1="66.33" x2="54.30" y2="66.33" stroke="#4a4a4a" stroke-width="1.0" />
<text x="49.00" y="70.42" font-size="12.8" font-weight="bold" text-anchor="end" fill="#000" >4</text>
<line x1="52.30" y1="46.66" x2="54.30" y2="46.66" stroke="#4a4a4a" stroke-width="1.0" />
<line x1="51.30" y1="27.00" x2="54.30" y2="27.00" stroke="#4a4a4a" stroke-width="1.0" />
<text x="49.00" y="31.10" font-size="12.8" font-weight="bold" text-anchor="end" fill="#000" >8</text>
<line x1="54.30" y1="184.30" x2="54.30" y2="187.30" stroke="#4a4a4a" stroke-width="1.0" />
<text x="54.30" y="200.10" font-size="12.8" font-weight="bold" text-anchor="middle" fill="#000" >0.0</text>
<line x1="70.56" y1="184.30" x2="70.56" y2="186.30" stroke="#4a4a4a" stroke-width="1.0" />
<line x1="86.82" y1="184.30" x2="86.82" y2="187.30" stroke="#4a4a4a" stroke-width="1.0" />
<text x="86.82" y="200.10" font-size="12.8" font-weight="bold" text-anchor="middle" fill="#000" >0.1</text>
<line x1="103.08" y1="184.30" x2="103.08" y2="186.30" stroke="#4a4a4a" stroke-width="1.0" />
<line x1="119.33" y1="184.30" x2="119.33" y2="187.30" stroke="#4a4a4a" stroke-width="1.0" />
<text x="119.33" y="200.10" font-size="12.8" font-weight="bold" text-anchor="middle" fill="#000" >0.2</text>
<line x1="135.59" y1="184.30" x2="135.59" y2="186.30" stroke="#4a4a4a" stroke-width="1.0" />
<line x1="151.85" y1="184.30" x2="151.85" y2="187.30" stroke="#4a4a4a" stroke-width="1.0" />
<text x="151.85" y="200.10" font-size="12.8" font-weight="bold" text-anchor="middle" fill="#000" >0.3</text>
<line x1="168.11" y1="184.30" x2="168.11" y2="186.30" stroke="#4a4a4a" stroke-width="1.0" />
<line x1="184.37" y1="184.30" x2="184.37" y2="187.30" stroke="#4a4a4a" stroke-width="1.0" />
<text x="184.37" y="200.10" font-size="12.8" font-weight="bold" text-anchor="middle" fill="#000" >0.4</text>
<line x1="200.63" y1="184.30" x2="200.63" y2="186.30" stroke="#4a4a4a" stroke-width="1.0" />
<line x1="216.88" y1="184.30" x2="216.88" y2="187.30" stroke="#4a4a4a" stroke-width="1.0" />
<text x="216.88" y="200.10" font-size="12.8" font-weight="bold" text-anchor="middle" fill="#000" >0.5</text>
<line x1="233.14" y1="184.30" x2="233.14" y2="186.30" stroke="#4a4a4a" stroke-width="1.0" />
<line x1="249.40" y1="184.30" x2="249.40" y2="187.30" stroke="#4a4a4a" stroke-width="1.0" />
<text x="249.40" y="200.10" font-size="12.8" font-weight="bold" text-anchor="middle" fill="#000" >0.6</text>
<text x="152.00" y="214.80" font-size="13.5" font-weight="bold" text-anchor="middle" fill="#000" >Potential / V</text>
<g transform="translate(26.4,99) rotate(-90)"><text x="0" y="0" font-size="13.4" font-weight="bold" text-anchor="middle">Current Density / A g<tspan font-size="8" dy="-5">-1</tspan></text></g>
<line x1="122.30" y1="104.80" x2="122.30" y2="59.50" stroke="#000" stroke-width="1.0" />
<path d="M120.5,60.5 L122.3,55.2 L124.1,60.5 Z" fill="#000"/>
<text x="127.20" y="59.00" font-size="8.2" font-weight="normal" text-anchor="start" fill="#000" stroke="#222" stroke-width="0.22">100 mV s<tspan font-size="4.8" dy="-3.3">-1</tspan></text>
<text x="89.00" y="109.90" font-size="8.2" font-weight="normal" text-anchor="start" fill="#000" stroke="#222" stroke-width="0.22">5 mV s<tspan font-size="4.8" dy="-3.3">-1</tspan></text>
<text x="11.5" y="27.3" font-size="38" style="font-family:&quot;Liberation Serif&quot;,serif" fill="#000">a</text>
<path d="M348.20,184.50 L348.21,182.81 L348.23,181.12 L348.24,179.44 L348.25,177.75 L348.27,176.06 L348.28,174.38 L348.30,172.69 L348.31,171.00 L348.32,169.31 L348.34,167.62 L348.35,165.94 L348.37,164.25 L348.38,162.56 L348.39,160.88 L348.41,159.19 L348.42,157.50 L348.43,155.81 L348.45,154.12 L348.46,152.44 L348.48,150.75 L348.49,149.06 L348.50,147.38 L348.52,145.69 L348.53,144.00 L348.54,142.31 L348.56,140.62 L348.57,138.94 L348.58,137.25 L348.60,135.56 L348.61,133.88 L348.63,132.19 L348.64,130.50 L348.65,128.81 L348.67,127.12 L348.68,125.44 L348.69,123.75 L348.71,122.06 L348.72,120.38 L348.74,118.69 L348.75,117.00 L348.76,115.31 L348.78,113.62 L348.79,111.94 L348.81,110.25 L348.82,108.56 L348.83,106.88 L348.85,105.19 L348.86,103.50 L348.87,101.81 L348.89,100.12 L348.90,98.44 L348.92,96.75 L348.93,95.06 L348.94,93.38 L348.96,91.69 L348.97,90.00 L348.98,88.31 L349.00,86.62 L349.01,84.94 L349.02,83.25 L349.04,81.56 L349.05,79.88 L349.07,78.19 L349.08,76.50 L349.09,74.81 L349.11,73.13 L349.12,71.44 L349.13,69.75 L349.15,68.06 L349.16,66.38 L349.18,64.69 L349.19,63.00 L349.20,61.31 L349.22,59.62 L349.23,57.94 L349.25,56.25 L349.26,54.56 L349.27,52.88 L349.29,51.19 L349.30,49.50 L349.33,51.19 L349.35,52.88 L349.38,54.56 L349.41,56.25 L349.43,57.94 L349.46,59.62 L349.48,61.31 L349.51,63.00 L349.54,64.69 L349.56,66.38 L349.59,68.06 L349.62,69.75 L349.64,71.44 L349.67,73.13 L349.69,74.81 L349.72,76.50 L349.75,78.19 L349.77,79.88 L349.80,81.56 L349.82,83.25 L349.85,84.94 L349.88,86.62 L349.90,88.31 L349.93,90.00 L349.96,91.69 L349.98,93.38 L350.01,95.06 L350.04,96.75 L350.06,98.44 L350.09,100.12 L350.11,101.81 L350.14,103.50 L350.17,105.19 L350.19,106.88 L350.22,108.56 L350.25,110.25 L350.27,111.94 L350.30,113.62 L350.32,115.31 L350.35,117.00 L350.38,118.69 L350.40,120.38 L350.43,122.06 L350.45,123.75 L350.48,125.44 L350.51,127.12 L350.53,128.81 L350.56,130.50 L350.59,132.19 L350.61,133.88 L350.64,135.56 L350.66,137.25 L350.69,138.94 L350.72,140.62 L350.74,142.31 L350.77,144.00 L350.80,145.69 L350.82,147.38 L350.85,149.06 L350.88,150.75 L350.90,152.44 L350.93,154.12 L350.95,155.81 L350.98,157.50 L351.01,159.19 L351.03,160.88 L351.06,162.56 L351.08,164.25 L351.11,165.94 L351.14,167.62 L351.16,169.31 L351.19,171.00 L351.22,172.69 L351.24,174.38 L351.27,176.06 L351.29,177.75 L351.32,179.44 L351.35,181.12 L351.37,182.81 L351.40,184.50" fill="none" stroke="#e020e0" stroke-width="1.5" stroke-linejoin="round" />
<path d="M348.30,184.50 L348.33,182.81 L348.35,181.12 L348.38,179.44 L348.41,177.75 L348.43,176.06 L348.46,174.38 L348.48,172.69 L348.51,171.00 L348.54,169.31 L348.56,167.62 L348.59,165.94 L348.62,164.25 L348.64,162.56 L348.67,160.88 L348.69,159.19 L348.72,157.50 L348.75,155.81 L348.77,154.12 L348.80,152.44 L348.82,150.75 L348.85,149.06 L348.88,147.38 L348.90,145.69 L348.93,144.00 L348.96,142.31 L348.98,140.62 L349.01,138.94 L349.04,137.25 L349.06,135.56 L349.09,133.88 L349.11,132.19 L349.14,130.50 L349.17,128.81 L349.19,127.12 L349.22,125.44 L349.25,123.75 L349.27,122.06 L349.30,120.38 L349.32,118.69 L349.35,117.00 L349.38,115.31 L349.40,113.62 L349.43,111.94 L349.45,110.25 L349.48,108.56 L349.51,106.88 L349.53,105.19 L349.56,103.50 L349.59,101.81 L349.61,100.12 L349.64,98.44 L349.66,96.75 L349.69,95.06 L349.72,93.38 L349.74,91.69 L349.77,90.00 L349.80,88.31 L349.82,86.62 L349.85,84.94 L349.88,83.25 L349.90,81.56 L349.93,79.88 L349.95,78.19 L349.98,76.50 L350.01,74.81 L350.03,73.13 L350.06,71.44 L350.08,69.75 L350.11,68.06 L350.14,66.38 L350.16,64.69 L350.19,63.00 L350.22,61.31 L350.24,59.62 L350.27,57.94 L350.29,56.25 L350.32,54.56 L350.35,52.88 L350.37,51.19 L350.40,49.50 L350.44,51.19 L350.48,52.88 L350.53,54.56 L350.57,56.25 L350.61,57.94 L350.65,59.62 L350.70,61.31 L350.74,63.00 L350.78,64.69 L350.82,66.38 L350.87,68.06 L350.91,69.75 L350.95,71.44 L351.00,73.13 L351.04,74.81 L351.08,76.50 L351.12,78.19 L351.16,79.88 L351.21,81.56 L351.25,83.25 L351.29,84.94 L351.33,86.62 L351.38,88.31 L351.42,90.00 L351.46,91.69 L351.50,93.38 L351.55,95.06 L351.59,96.75 L351.63,98.44 L351.68,100.12 L351.72,101.81 L351.76,103.50 L351.80,105.19 L351.84,106.88 L351.89,108.56 L351.93,110.25 L351.97,111.94 L352.01,113.62 L352.06,115.31 L352.10,117.00 L352.14,118.69 L352.19,120.38 L352.23,122.06 L352.27,123.75 L352.31,125.44 L352.36,127.12 L352.40,128.81 L352.44,130.50 L352.48,132.19 L352.52,133.88 L352.57,135.56 L352.61,137.25 L352.65,138.94 L352.69,140.62 L352.74,142.31 L352.78,144.00 L352.82,145.69 L352.87,147.38 L352.91,149.06 L352.95,150.75 L352.99,152.44 L353.04,154.12 L353.08,155.81 L353.12,157.50 L353.16,159.19 L353.20,160.88 L353.25,162.56 L353.29,164.25 L353.33,165.94 L353.38,167.62 L353.42,169.31 L353.46,171.00 L353.50,172.69 L353.55,174.38 L353.59,176.06 L353.63,177.75 L353.67,179.44 L353.72,181.12 L353.76,182.81 L353.80,184.50" fill="none" stroke="#e830e8" stroke-width="1.5" stroke-linejoin="round" />
<path d="M348.80,184.50 L348.85,182.81 L348.90,181.12 L348.94,179.44 L348.99,177.75 L349.04,176.06 L349.09,174.38 L349.13,172.69 L349.18,171.00 L349.23,169.31 L349.28,167.62 L349.32,165.94 L349.37,164.25 L349.42,162.56 L349.47,160.88 L349.51,159.19 L349.56,157.50 L349.61,155.81 L349.66,154.12 L349.70,152.44 L349.75,150.75 L349.80,149.06 L349.85,147.38 L349.89,145.69 L349.94,144.00 L349.99,142.31 L350.04,140.62 L350.08,138.94 L350.13,137.25 L350.18,135.56 L350.23,133.88 L350.27,132.19 L350.32,130.50 L350.37,128.81 L350.42,127.12 L350.46,125.44 L350.51,123.75 L350.56,122.06 L350.61,120.38 L350.65,118.69 L350.70,117.00 L350.75,115.31 L350.80,113.62 L350.84,111.94 L350.89,110.25 L350.94,108.56 L350.99,106.88 L351.03,105.19 L351.08,103.50 L351.13,101.81 L351.18,100.12 L351.22,98.44 L351.27,96.75 L351.32,95.06 L351.37,93.38 L351.41,91.69 L351.46,90.00 L351.51,88.31 L351.56,86.62 L351.60,84.94 L351.65,83.25 L351.70,81.56 L351.75,79.88 L351.79,78.19 L351.84,76.50 L351.89,74.81 L351.94,73.13 L351.98,71.44 L352.03,69.75 L352.08,68.06 L352.12,66.38 L352.17,64.69 L352.22,63.00 L352.27,61.31 L352.31,59.62 L352.36,57.94 L352.41,56.25 L352.46,54.56 L352.50,52.88 L352.55,51.19 L352.60,49.50 L352.66,51.19 L352.72,52.88 L352.77,54.56 L352.83,56.25 L352.89,57.94 L352.94,59.62 L353.00,61.31 L353.06,63.00 L353.12,64.69 L353.18,66.38 L353.23,68.06 L353.29,69.75 L353.35,71.44 L353.41,73.13 L353.46,74.81 L353.52,76.50 L353.58,78.19 L353.63,79.88 L353.69,81.56 L353.75,83.25 L353.81,84.94 L353.87,86.62 L353.92,88.31 L353.98,90.00 L354.04,91.69 L354.10,93.38 L354.15,95.06 L354.21,96.75 L354.27,98.44 L354.32,100.12 L354.38,101.81 L354.44,103.50 L354.50,105.19 L354.56,106.88 L354.61,108.56 L354.67,110.25 L354.73,111.94 L354.79,113.62 L354.84,115.31 L354.90,117.00 L354.96,118.69 L355.01,120.38 L355.07,122.06 L355.13,123.75 L355.19,125.44 L355.25,127.12 L355.30,128.81 L355.36,130.50 L355.42,132.19 L355.48,133.88 L355.53,135.56 L355.59,137.25 L355.65,138.94 L355.70,140.62 L355.76,142.31 L355.82,144.00 L355.88,145.69 L355.94,147.38 L355.99,149.06 L356.05,150.75 L356.11,152.44 L356.17,154.12 L356.22,155.81 L356.28,157.50 L356.34,159.19 L356.39,160.88 L356.45,162.56 L356.51,164.25 L356.57,165.94 L356.62,167.62 L356.68,169.31 L356.74,171.00 L356.80,172.69 L356.86,174.38 L356.91,176.06 L356.97,177.75 L357.03,179.44 L357.08,181.12 L357.14,182.81 L357.20,184.50" fill="none" stroke="#a040ff" stroke-width="1.5" stroke-linejoin="round" />
<path d="M348.50,184.50 L348.61,182.05 L348.73,179.74 L348.84,177.56 L348.95,175.46 L349.07,173.44 L349.18,171.49 L349.30,169.58 L349.41,167.71 L349.52,165.88 L349.64,164.08 L349.75,162.30 L349.87,160.53 L349.98,158.78 L350.09,157.04 L350.21,155.32 L350.32,153.59 L350.43,151.88 L350.55,150.17 L350.66,148.47 L350.77,146.76 L350.89,145.06 L351.00,143.37 L351.12,141.67 L351.23,139.98 L351.34,138.29 L351.46,136.60 L351.57,134.91 L351.69,133.22 L351.80,131.53 L351.91,129.84 L352.03,128.16 L352.14,126.47 L352.25,124.79 L352.37,123.10 L352.48,121.42 L352.60,119.74 L352.71,118.05 L352.82,116.37 L352.94,114.69 L353.05,113.01 L353.16,111.34 L353.28,109.66 L353.39,107.99 L353.50,106.31 L353.62,104.64 L353.73,102.97 L353.85,101.30 L353.96,99.64 L354.07,97.98 L354.19,96.32 L354.30,94.66 L354.42,93.01 L354.53,91.35 L354.64,89.71 L354.76,88.07 L354.87,86.43 L354.98,84.79 L355.10,83.16 L355.21,81.54 L355.33,79.92 L355.44,78.31 L355.55,76.70 L355.67,75.10 L355.78,73.51 L355.89,71.93 L356.01,70.35 L356.12,68.79 L356.24,67.23 L356.35,65.68 L356.46,64.14 L356.58,62.62 L356.69,61.10 L356.80,59.60 L356.92,58.11 L357.03,56.64 L357.15,55.18 L357.26,53.73 L357.37,52.30 L357.49,50.89 L357.60,49.50 L357.72,51.85 L357.83,54.17 L357.95,56.46 L358.06,58.71 L358.18,60.93 L358.30,63.13 L358.41,65.29 L358.53,67.42 L358.65,69.52 L358.76,71.60 L358.88,73.66 L359.00,75.68 L359.11,77.69 L359.23,79.67 L359.34,81.63 L359.46,83.57 L359.58,85.49 L359.69,87.38 L359.81,89.26 L359.93,91.12 L360.04,92.96 L360.16,94.79 L360.27,96.60 L360.39,98.39 L360.51,100.17 L360.62,101.93 L360.74,103.67 L360.86,105.41 L360.97,107.13 L361.09,108.83 L361.20,110.53 L361.32,112.21 L361.44,113.88 L361.55,115.54 L361.67,117.19 L361.79,118.83 L361.90,120.45 L362.02,122.07 L362.13,123.68 L362.25,125.28 L362.37,126.87 L362.48,128.45 L362.60,130.03 L362.71,131.59 L362.83,133.15 L362.95,134.70 L363.06,136.25 L363.18,137.79 L363.30,139.32 L363.41,140.84 L363.53,142.36 L363.64,143.87 L363.76,145.38 L363.88,146.88 L363.99,148.38 L364.11,149.87 L364.23,151.35 L364.34,152.84 L364.46,154.31 L364.57,155.78 L364.69,157.25 L364.81,158.72 L364.92,160.18 L365.04,161.63 L365.16,163.08 L365.27,164.53 L365.39,165.98 L365.50,167.42 L365.62,168.86 L365.74,170.29 L365.85,171.73 L365.97,173.16 L366.09,174.58 L366.20,176.01 L366.32,177.43 L366.44,178.85 L366.55,180.26 L366.67,181.68 L366.78,183.09 L366.90,184.50" fill="none" stroke="#1878ff" stroke-width="1.3" stroke-linejoin="round" />
<path d="M348.90,184.50 L349.09,181.54 L349.28,178.82 L349.47,176.30 L349.66,173.93 L349.86,171.69 L350.05,169.56 L350.24,167.51 L350.43,165.52 L350.62,163.60 L350.81,161.72 L351.00,159.87 L351.19,158.05 L351.39,156.26 L351.58,154.49 L351.77,152.73 L351.96,150.99 L352.15,149.26 L352.34,147.53 L352.53,145.82 L352.72,144.11 L352.92,142.40 L353.11,140.70 L353.30,139.00 L353.49,137.30 L353.68,135.61 L353.87,133.91 L354.06,132.22 L354.25,130.53 L354.45,128.84 L354.64,127.16 L354.83,125.47 L355.02,123.79 L355.21,122.10 L355.40,120.42 L355.59,118.74 L355.78,117.06 L355.98,115.38 L356.17,113.70 L356.36,112.03 L356.55,110.36 L356.74,108.69 L356.93,107.02 L357.12,105.35 L357.31,103.69 L357.51,102.03 L357.70,100.37 L357.89,98.72 L358.08,97.07 L358.27,95.42 L358.46,93.78 L358.65,92.14 L358.84,90.51 L359.04,88.88 L359.23,87.26 L359.42,85.65 L359.61,84.04 L359.80,82.45 L359.99,80.86 L360.18,79.27 L360.38,77.70 L360.57,76.14 L360.76,74.59 L360.95,73.05 L361.14,71.52 L361.33,70.00 L361.52,68.50 L361.71,67.02 L361.90,65.55 L362.10,64.09 L362.29,62.65 L362.48,61.24 L362.67,59.84 L362.86,58.46 L363.05,57.10 L363.24,55.77 L363.44,54.46 L363.63,53.18 L363.82,51.92 L364.01,50.70 L364.20,49.50 L364.39,52.19 L364.58,54.82 L364.77,57.41 L364.96,59.94 L365.15,62.43 L365.34,64.88 L365.53,67.27 L365.72,69.63 L365.91,71.94 L366.10,74.22 L366.29,76.45 L366.48,78.65 L366.67,80.82 L366.86,82.94 L367.05,85.04 L367.24,87.10 L367.43,89.14 L367.62,91.14 L367.81,93.11 L368.00,95.06 L368.19,96.98 L368.38,98.87 L368.57,100.74 L368.76,102.58 L368.95,104.40 L369.14,106.20 L369.33,107.98 L369.52,109.74 L369.71,111.47 L369.90,113.19 L370.09,114.89 L370.28,116.57 L370.47,118.23 L370.66,119.87 L370.85,121.50 L371.04,123.11 L371.23,124.71 L371.42,126.30 L371.61,127.86 L371.80,129.42 L371.99,130.96 L372.18,132.49 L372.37,134.01 L372.56,135.52 L372.75,137.01 L372.94,138.49 L373.13,139.97 L373.32,141.43 L373.51,142.88 L373.70,144.33 L373.89,145.76 L374.08,147.18 L374.27,148.60 L374.46,150.01 L374.65,151.41 L374.84,152.80 L375.03,154.19 L375.22,155.57 L375.41,156.94 L375.60,158.30 L375.79,159.66 L375.98,161.01 L376.17,162.36 L376.36,163.70 L376.55,165.03 L376.74,166.36 L376.93,167.69 L377.12,169.00 L377.31,170.32 L377.50,171.63 L377.69,172.93 L377.88,174.23 L378.07,175.53 L378.26,176.82 L378.45,178.11 L378.64,179.40 L378.83,180.68 L379.02,181.95 L379.21,183.23 L379.40,184.50" fill="none" stroke="#10e810" stroke-width="1.3" stroke-linejoin="round" />
<path d="M348.50,184.50 L348.99,180.91 L349.48,177.67 L349.97,174.73 L350.45,172.03 L350.94,169.51 L351.43,167.15 L351.92,164.92 L352.41,162.79 L352.90,160.74 L353.39,158.76 L353.88,156.84 L354.37,154.96 L354.85,153.11 L355.34,151.30 L355.83,149.51 L356.32,147.74 L356.81,145.98 L357.30,144.24 L357.79,142.51 L358.27,140.78 L358.76,139.07 L359.25,137.36 L359.74,135.65 L360.23,133.95 L360.72,132.25 L361.21,130.56 L361.70,128.86 L362.19,127.17 L362.67,125.48 L363.16,123.80 L363.65,122.11 L364.14,120.43 L364.63,118.75 L365.12,117.07 L365.61,115.39 L366.10,113.71 L366.58,112.04 L367.07,110.37 L367.56,108.70 L368.05,107.04 L368.54,105.37 L369.03,103.71 L369.52,102.06 L370.00,100.41 L370.49,98.76 L370.98,97.12 L371.47,95.48 L371.96,93.85 L372.45,92.22 L372.94,90.60 L373.43,88.99 L373.92,87.39 L374.40,85.79 L374.89,84.21 L375.38,82.63 L375.87,81.07 L376.36,79.51 L376.85,77.97 L377.34,76.44 L377.83,74.93 L378.31,73.43 L378.80,71.94 L379.29,70.48 L379.78,69.03 L380.27,67.60 L380.76,66.19 L381.25,64.81 L381.74,63.44 L382.22,62.11 L382.71,60.79 L383.20,59.51 L383.69,58.26 L384.18,57.03 L384.67,55.84 L385.16,54.69 L385.65,53.57 L386.13,52.49 L386.62,51.45 L387.11,50.45 L387.60,49.50 L388.05,53.19 L388.50,56.77 L388.95,60.26 L389.40,63.64 L389.84,66.93 L390.29,70.13 L390.74,73.23 L391.19,76.26 L391.64,79.20 L392.09,82.06 L392.54,84.84 L392.99,87.55 L393.43,90.19 L393.88,92.76 L394.33,95.27 L394.78,97.71 L395.23,100.08 L395.68,102.40 L396.13,104.66 L396.58,106.87 L397.02,109.02 L397.47,111.12 L397.92,113.17 L398.37,115.17 L398.82,117.12 L399.27,119.03 L399.72,120.90 L400.17,122.72 L400.61,124.51 L401.06,126.25 L401.51,127.96 L401.96,129.63 L402.41,131.27 L402.86,132.87 L403.31,134.44 L403.75,135.98 L404.20,137.49 L404.65,138.97 L405.10,140.42 L405.55,141.84 L406.00,143.24 L406.45,144.61 L406.90,145.96 L407.35,147.28 L407.79,148.58 L408.24,149.86 L408.69,151.12 L409.14,152.36 L409.59,153.58 L410.04,154.78 L410.49,155.96 L410.94,157.12 L411.38,158.27 L411.83,159.39 L412.28,160.51 L412.73,161.61 L413.18,162.69 L413.63,163.76 L414.08,164.81 L414.52,165.85 L414.97,166.88 L415.42,167.90 L415.87,168.90 L416.32,169.90 L416.77,170.88 L417.22,171.85 L417.67,172.81 L418.12,173.76 L418.56,174.70 L419.01,175.63 L419.46,176.55 L419.91,177.47 L420.36,178.37 L420.81,179.27 L421.26,180.16 L421.70,181.04 L422.15,181.92 L422.60,182.78 L423.05,183.65 L423.50,184.50" fill="none" stroke="#ffe600" stroke-width="1.3" stroke-linejoin="round" />
<path d="M348.20,184.50 L349.42,180.53 L350.63,176.98 L351.85,173.79 L353.06,170.88 L354.28,168.20 L355.50,165.71 L356.71,163.36 L357.93,161.14 L359.15,159.03 L360.36,156.99 L361.58,155.02 L362.80,153.10 L364.01,151.22 L365.23,149.38 L366.44,147.57 L367.66,145.78 L368.88,144.02 L370.09,142.26 L371.31,140.52 L372.52,138.79 L373.74,137.07 L374.96,135.35 L376.17,133.65 L377.39,131.94 L378.61,130.24 L379.82,128.54 L381.04,126.85 L382.25,125.16 L383.47,123.47 L384.69,121.78 L385.90,120.10 L387.12,118.42 L388.34,116.73 L389.55,115.06 L390.77,113.38 L391.99,111.71 L393.20,110.04 L394.42,108.37 L395.63,106.70 L396.85,105.04 L398.07,103.38 L399.28,101.73 L400.50,100.08 L401.71,98.44 L402.93,96.80 L404.15,95.16 L405.36,93.54 L406.58,91.92 L407.80,90.30 L409.01,88.70 L410.23,87.10 L411.44,85.52 L412.66,83.94 L413.88,82.37 L415.09,80.82 L416.31,79.28 L417.53,77.75 L418.74,76.24 L419.96,74.74 L421.18,73.26 L422.39,71.80 L423.61,70.36 L424.82,68.94 L426.04,67.54 L427.26,66.16 L428.47,64.81 L429.69,63.48 L430.90,62.18 L432.12,60.91 L433.34,59.68 L434.55,58.47 L435.77,57.31 L436.99,56.18 L438.20,55.09 L439.42,54.04 L440.63,53.03 L441.85,52.07 L443.07,51.16 L444.28,50.30 L445.50,49.50 L446.55,53.09 L447.60,56.53 L448.65,59.83 L449.70,63.01 L450.75,66.07 L451.80,69.01 L452.85,71.85 L453.90,74.59 L454.95,77.24 L456.00,79.80 L457.05,82.28 L458.10,84.67 L459.15,87.00 L460.20,89.26 L461.25,91.45 L462.30,93.59 L463.35,95.66 L464.40,97.69 L465.45,99.66 L466.50,101.59 L467.55,103.47 L468.60,105.31 L469.65,107.11 L470.70,108.88 L471.75,110.61 L472.80,112.31 L473.85,113.97 L474.90,115.61 L475.95,117.23 L477.00,118.81 L478.05,120.38 L479.10,121.92 L480.15,123.44 L481.20,124.94 L482.25,126.43 L483.30,127.89 L484.35,129.34 L485.40,130.78 L486.45,132.20 L487.50,133.61 L488.55,135.00 L489.60,136.38 L490.65,137.75 L491.70,139.11 L492.75,140.46 L493.80,141.81 L494.85,143.14 L495.90,144.46 L496.95,145.78 L498.00,147.09 L499.05,148.39 L500.10,149.69 L501.15,150.98 L502.20,152.27 L503.25,153.55 L504.30,154.82 L505.35,156.09 L506.40,157.36 L507.45,158.62 L508.50,159.88 L509.55,161.13 L510.60,162.38 L511.65,163.63 L512.70,164.87 L513.75,166.12 L514.80,167.35 L515.85,168.59 L516.90,169.83 L517.95,171.06 L519.00,172.29 L520.05,173.52 L521.10,174.74 L522.15,175.97 L523.20,177.19 L524.25,178.41 L525.30,179.63 L526.35,180.85 L527.40,182.07 L528.45,183.28 L529.50,184.50" fill="none" stroke="#f01818" stroke-width="1.5" stroke-linejoin="round" />
<rect x="340.50" y="26.80" width="195.10" height="157.60" fill="none" stroke="#4a4a4a" stroke-width="1.1"/>
<line x1="337.50" y1="184.50" x2="340.50" y2="184.50" stroke="#4a4a4a" stroke-width="1.0" />
<text x="335.20" y="189.10" font-size="12.8" font-weight="bold" text-anchor="end" fill="#000" >0.0</text>
<line x1="338.50" y1="162.00" x2="340.50" y2="162.00" stroke="#4a4a4a" stroke-width="1.0" />
<line x1="337.50" y1="139.50" x2="340.50" y2="139.50" stroke="#4a4a4a" stroke-width="1.0" />
<text x="335.20" y="144.10" font-size="12.8" font-weight="bold" text-anchor="end" fill="#000" >0.2</text>
<line x1="338.50" y1="117.00" x2="340.50" y2="117.00" stroke="#4a4a4a" stroke-width="1.0" />
<line x1="337.50" y1="94.50" x2="340.50" y2="94.50" stroke="#4a4a4a" stroke-width="1.0" />
<text x="335.20" y="99.10" font-size="12.8" font-weight="bold" text-anchor="end" fill="#000" >0.4</text>
<line x1="338.50" y1="72.00" x2="340.50" y2="72.00" stroke="#4a4a4a" stroke-width="1.0" />
<line x1="337.50" y1="49.50" x2="340.50" y2="49.50" stroke="#4a4a4a" stroke-width="1.0" />
<text x="335.20" y="54.10" font-size="12.8" font-weight="bold" text-anchor="end" fill="#000" >0.6</text>
<line x1="348.20" y1="184.40" x2="348.20" y2="187.40" stroke="#4a4a4a" stroke-width="1.0" />
<text x="348.20" y="200.10" font-size="12.8" font-weight="bold" text-anchor="middle" fill="#000" >0</text>
<line x1="366.95" y1="184.40" x2="366.95" y2="186.40" stroke="#4a4a4a" stroke-width="1.0" />
<line x1="385.70" y1="184.40" x2="385.70" y2="187.40" stroke="#4a4a4a" stroke-width="1.0" />
<text x="385.70" y="200.10" font-size="12.8" font-weight="bold" text-anchor="middle" fill="#000" >25</text>
<line x1="404.45" y1="184.40" x2="404.45" y2="186.40" stroke="#4a4a4a" stroke-width="1.0" />
<line x1="423.20" y1="184.40" x2="423.20" y2="187.40" stroke="#4a4a4a" stroke-width="1.0" />
<text x="423.20" y="200.10" font-size="12.8" font-weight="bold" text-anchor="middle" fill="#000" >50</text>
<line x1="441.95" y1="184.40" x2="441.95" y2="186.40" stroke="#4a4a4a" stroke-width="1.0" />
<line x1="460.70" y1="184.40" x2="460.70" y2="187.40" stroke="#4a4a4a" stroke-width="1.0" />
<text x="460.70" y="200.10" font-size="12.8" font-weight="bold" text-anchor="middle" fill="#000" >75</text>
<line x1="479.45" y1="184.40" x2="479.45" y2="186.40" stroke="#4a4a4a" stroke-width="1.0" />
<line x1="498.20" y1="184.40" x2="498.20" y2="187.40" stroke="#4a4a4a" stroke-width="1.0" />
<text x="498.20" y="200.10" font-size="12.8" font-weight="bold" text-anchor="middle" fill="#000" >100</text>
<line x1="516.95" y1="184.40" x2="516.95" y2="186.40" stroke="#4a4a4a" stroke-width="1.0" />
<line x1="535.70" y1="184.40" x2="535.70" y2="187.40" stroke="#4a4a4a" stroke-width="1.0" />
<text x="535.70" y="200.10" font-size="12.8" font-weight="bold" text-anchor="middle" fill="#000" >125</text>
<text x="440.80" y="214.00" font-size="13.3" font-weight="bold" text-anchor="middle" fill="#000" >Time / s</text>
<g transform="translate(311.8,98.2) rotate(-90)"><text x="0" y="0" font-size="13.3" font-weight="bold" text-anchor="middle">Potential / V</text></g>
<line x1="445.70" y1="50.00" x2="445.70" y2="184.40" stroke="#222" stroke-width="1.0" stroke-dasharray="3,1.8,1,2,1,2.5"/>
<line x1="529.60" y1="50.00" x2="529.60" y2="184.40" stroke="#222" stroke-width="1.0" stroke-dasharray="3,1.8,1,2,1,2.5"/>
<line x1="448.00" y1="108.40" x2="527.00" y2="108.40" stroke="#666" stroke-width="0.8" />
<path d="M446,108.4 L450,107.1 L450,109.7 Z" fill="#111"/>
<path d="M529.3,108.4 L525.3,107.1 L525.3,109.7 Z" fill="#111"/>
<text x="485.20" y="104.40" font-size="8.6" font-weight="normal" text-anchor="start" fill="#000" stroke="#222" stroke-width="0.22">Δt<tspan font-size="6" dy="1.8" dx="-0.3">d</tspan></text>
<line x1="404.00" y1="40.20" x2="472.60" y2="40.20" stroke="#111" stroke-width="1.1" />
<path d="M400.8,40.2 L406.3,38.3 L406.3,42.1 Z" fill="#000"/>
<text x="473.50" y="42.50" font-size="8.5" font-weight="normal" text-anchor="start" fill="#000" stroke="#222" stroke-width="0.22">0.625&#160;&#160;A g<tspan font-size="5" dy="-4">-1</tspan></text>
<text x="361.50" y="43.20" font-size="8.5" font-weight="normal" text-anchor="start" fill="#000" stroke="#222" stroke-width="0.22">12.50&#160;&#160;A g<tspan font-size="5" dy="-4">-1</tspan></text>
<text x="289.6" y="31.5" font-size="37" style="font-family:&quot;Liberation Serif&quot;,serif" fill="#000">b</text>
<defs><linearGradient id="bg" x1="0" y1="0" x2="0" y2="1"><stop offset="0" stop-color="#ff1010"/><stop offset="0.13" stop-color="#ff2626"/><stop offset="0.36" stop-color="#fa8c8c"/><stop offset="0.48" stop-color="#d4aaaa"/><stop offset="0.58" stop-color="#94cccc"/><stop offset="0.65" stop-color="#44e6e6"/><stop offset="0.70" stop-color="#00f2f2"/><stop offset="1" stop-color="#00f2f2"/></linearGradient></defs>
<rect x="59.27" y="264.07" width="16" height="139.33" fill="url(#bg)"/>
<text x="67.27" y="262.47" font-size="8.5" font-weight="normal" text-anchor="middle" fill="#000" stroke="#222" stroke-width="0.22">115.63</text>
<text x="67.27" y="419.40" font-size="12.8" font-weight="bold" text-anchor="middle" fill="#000" >0.625</text>
<rect x="91.01" y="281.39" width="16" height="122.01" fill="url(#bg)"/>
<text x="99.01" y="279.79" font-size="8.5" font-weight="normal" text-anchor="middle" fill="#000" stroke="#222" stroke-width="0.22">101.25</text>
<text x="99.01" y="419.40" font-size="12.8" font-weight="bold" text-anchor="middle" fill="#000" >1.25</text>
<rect x="122.76" y="300.97" width="16" height="102.43" fill="url(#bg)"/>
<text x="130.76" y="299.37" font-size="8.5" font-weight="normal" text-anchor="middle" fill="#000" stroke="#222" stroke-width="0.22">85.00</text>
<text x="130.76" y="419.40" font-size="12.8" font-weight="bold" text-anchor="middle" fill="#000" >2.5</text>
<rect x="154.50" y="314.53" width="16" height="88.87" fill="url(#bg)"/>
<text x="162.50" y="312.93" font-size="8.5" font-weight="normal" text-anchor="middle" fill="#000" stroke="#222" stroke-width="0.22">73.75</text>
<text x="162.50" y="419.40" font-size="12.8" font-weight="bold" text-anchor="middle" fill="#000" >3.75</text>
<rect x="186.24" y="330.59" width="16" height="72.81" fill="url(#bg)"/>
<text x="194.24" y="328.99" font-size="8.5" font-weight="normal" text-anchor="middle" fill="#000" stroke="#222" stroke-width="0.22">60.42</text>
<text x="194.24" y="419.40" font-size="12.8" font-weight="bold" text-anchor="middle" fill="#000" >6.25</text>
<rect x="217.99" y="343.66" width="16" height="59.74" fill="url(#bg)"/>
<text x="225.99" y="342.06" font-size="8.5" font-weight="normal" text-anchor="middle" fill="#000" stroke="#222" stroke-width="0.22">49.58</text>
<text x="225.99" y="419.40" font-size="12.8" font-weight="bold" text-anchor="middle" fill="#000" >8.75</text>
<rect x="249.73" y="348.67" width="16" height="54.73" fill="url(#bg)"/>
<text x="257.73" y="347.07" font-size="8.5" font-weight="normal" text-anchor="middle" fill="#000" stroke="#222" stroke-width="0.22">45.42</text>
<text x="257.73" y="419.40" font-size="12.8" font-weight="bold" text-anchor="middle" fill="#000" >12.5</text>
<rect x="51.40" y="246.10" width="222.20" height="157.30" fill="none" stroke="#4a4a4a" stroke-width="1.1"/>
<line x1="48.40" y1="403.40" x2="51.40" y2="403.40" stroke="#4a4a4a" stroke-width="1.0" />
<text x="46.20" y="408.00" font-size="12.8" font-weight="bold" text-anchor="end" fill="#000" >0</text>
<line x1="49.40" y1="391.35" x2="51.40" y2="391.35" stroke="#4a4a4a" stroke-width="1.0" />
<line x1="48.40" y1="379.30" x2="51.40" y2="379.30" stroke="#4a4a4a" stroke-width="1.0" />
<text x="46.20" y="383.90" font-size="12.8" font-weight="bold" text-anchor="end" fill="#000" >20</text>
<line x1="49.40" y1="367.25" x2="51.40" y2="367.25" stroke="#4a4a4a" stroke-width="1.0" />
<line x1="48.40" y1="355.20" x2="51.40" y2="355.20" stroke="#4a4a4a" stroke-width="1.0" />
<text x="46.20" y="359.80" font-size="12.8" font-weight="bold" text-anchor="end" fill="#000" >40</text>
<line x1="49.40" y1="343.15" x2="51.40" y2="343.15" stroke="#4a4a4a" stroke-width="1.0" />
<line x1="48.40" y1="331.10" x2="51.40" y2="331.10" stroke="#4a4a4a" stroke-width="1.0" />
<text x="46.20" y="335.70" font-size="12.8" font-weight="bold" text-anchor="end" fill="#000" >60</text>
<line x1="49.40" y1="319.05" x2="51.40" y2="319.05" stroke="#4a4a4a" stroke-width="1.0" />
<line x1="48.40" y1="307.00" x2="51.40" y2="307.00" stroke="#4a4a4a" stroke-width="1.0" />
<text x="46.20" y="311.60" font-size="12.8" font-weight="bold" text-anchor="end" fill="#000" >80</text>
<line x1="49.40" y1="294.95" x2="51.40" y2="294.95" stroke="#4a4a4a" stroke-width="1.0" />
<line x1="48.40" y1="282.90" x2="51.40" y2="282.90" stroke="#4a4a4a" stroke-width="1.0" />
<text x="46.20" y="287.50" font-size="12.8" font-weight="bold" text-anchor="end" fill="#000" >100</text>
<line x1="49.40" y1="270.85" x2="51.40" y2="270.85" stroke="#4a4a4a" stroke-width="1.0" />
<line x1="48.40" y1="258.80" x2="51.40" y2="258.80" stroke="#4a4a4a" stroke-width="1.0" />
<text x="46.20" y="263.40" font-size="12.8" font-weight="bold" text-anchor="end" fill="#000" >120</text>
<line x1="49.40" y1="246.75" x2="51.40" y2="246.75" stroke="#4a4a4a" stroke-width="1.0" />
<line x1="67.27" y1="403.40" x2="67.27" y2="406.40" stroke="#4a4a4a" stroke-width="1.0" />
<line x1="83.14" y1="403.40" x2="83.14" y2="405.40" stroke="#4a4a4a" stroke-width="1.0" />
<line x1="99.01" y1="403.40" x2="99.01" y2="406.40" stroke="#4a4a4a" stroke-width="1.0" />
<line x1="114.89" y1="403.40" x2="114.89" y2="405.40" stroke="#4a4a4a" stroke-width="1.0" />
<line x1="130.76" y1="403.40" x2="130.76" y2="406.40" stroke="#4a4a4a" stroke-width="1.0" />
<line x1="146.63" y1="403.40" x2="146.63" y2="405.40" stroke="#4a4a4a" stroke-width="1.0" />
<line x1="162.50" y1="403.40" x2="162.50" y2="406.40" stroke="#4a4a4a" stroke-width="1.0" />
<line x1="178.37" y1="403.40" x2="178.37" y2="405.40" stroke="#4a4a4a" stroke-width="1.0" />
<line x1="194.24" y1="403.40" x2="194.24" y2="406.40" stroke="#4a4a4a" stroke-width="1.0" />
<line x1="210.11" y1="403.40" x2="210.11" y2="405.40" stroke="#4a4a4a" stroke-width="1.0" />
<line x1="225.99" y1="403.40" x2="225.99" y2="406.40" stroke="#4a4a4a" stroke-width="1.0" />
<line x1="241.86" y1="403.40" x2="241.86" y2="405.40" stroke="#4a4a4a" stroke-width="1.0" />
<line x1="257.73" y1="403.40" x2="257.73" y2="406.40" stroke="#4a4a4a" stroke-width="1.0" />
<text x="155.50" y="435.00" font-size="13.6" font-weight="bold" text-anchor="middle" fill="#000" >Current Density / A g<tspan font-size="10" dy="-5">-1</tspan></text>
<g transform="translate(20.0,326.2) rotate(-90)"><text x="0" y="0" font-size="13.5" font-weight="bold" text-anchor="middle">Specific Capacitance / F g<tspan font-size="10.5" dy="-5.5">-1</tspan></text></g>
<text x="12.5" y="229.9" font-size="38" style="font-family:&quot;Liberation Serif&quot;,serif" fill="#000">c</text>
<rect x="369.20" y="286.90" width="147.50" height="93.50" fill="none" stroke="#7a7a7a" stroke-width="1.0"/>
<path d="M369.20,380.40 L373.60,299.90 L376.28,380.40 L379.83,299.90 L382.50,380.40 L386.04,299.90 L388.71,380.40 L392.24,299.90 L394.90,380.40 L398.42,299.90 L401.07,380.40 L404.58,299.90 L407.22,380.40 L410.72,299.90 L413.36,380.40 L416.85,299.90 L419.48,380.40 L422.96,299.90 L425.58,380.40 L429.05,299.90 L431.66,380.40 L435.12,299.90 L437.72,380.40 L441.18,299.90 L443.77,380.40 L447.21,299.90 L449.80,380.40 L453.23,299.90 L455.81,380.40 L459.24,299.90 L461.81,380.40 L465.22,299.90 L467.79,380.40 L471.19,299.90 L473.75,380.40 L477.14,299.90 L479.69,380.40 L483.07,299.90 L485.61,380.40 L488.98,299.90 L491.52,380.40 L494.88,299.90 L497.41,380.40 L500.76,299.90 L503.28,380.40 L506.62,299.90 L509.13,380.40 L512.46,299.90 L514.97,380.40" fill="none" stroke="#111" stroke-width="0.9" stroke-linejoin="round" />
<line x1="366.70" y1="380.40" x2="369.20" y2="380.40" stroke="#555" stroke-width="0.8" />
<text x="366.20" y="382.90" font-size="8.3" font-weight="bold" text-anchor="end" fill="#000" >0.0</text>
<line x1="367.70" y1="366.98" x2="369.20" y2="366.98" stroke="#555" stroke-width="0.8" />
<line x1="366.70" y1="353.57" x2="369.20" y2="353.57" stroke="#555" stroke-width="0.8" />
<text x="366.20" y="356.07" font-size="8.3" font-weight="bold" text-anchor="end" fill="#000" >0.2</text>
<line x1="367.70" y1="340.15" x2="369.20" y2="340.15" stroke="#555" stroke-width="0.8" />
<line x1="366.70" y1="326.73" x2="369.20" y2="326.73" stroke="#555" stroke-width="0.8" />
<text x="366.20" y="329.23" font-size="8.3" font-weight="bold" text-anchor="end" fill="#000" >0.4</text>
<line x1="367.70" y1="313.32" x2="369.20" y2="313.32" stroke="#555" stroke-width="0.8" />
<line x1="366.70" y1="299.90" x2="369.20" y2="299.90" stroke="#555" stroke-width="0.8" />
<text x="366.20" y="302.40" font-size="8.3" font-weight="bold" text-anchor="end" fill="#000" >0.6</text>
<line x1="369.20" y1="380.40" x2="369.20" y2="382.90" stroke="#555" stroke-width="0.8" />
<text x="369.20" y="389.60" font-size="8.7" font-weight="bold" text-anchor="middle" fill="#000" >0</text>
<line x1="381.49" y1="380.40" x2="381.49" y2="381.90" stroke="#555" stroke-width="0.8" />
<line x1="393.78" y1="380.40" x2="393.78" y2="382.90" stroke="#555" stroke-width="0.8" />
<text x="393.78" y="389.60" font-size="8.7" font-weight="bold" text-anchor="middle" fill="#000" >200</text>
<line x1="406.07" y1="380.40" x2="406.07" y2="381.90" stroke="#555" stroke-width="0.8" />
<line x1="418.37" y1="380.40" x2="418.37" y2="382.90" stroke="#555" stroke-width="0.8" />
<text x="418.37" y="389.60" font-size="8.7" font-weight="bold" text-anchor="middle" fill="#000" >400</text>
<line x1="430.66" y1="380.40" x2="430.66" y2="381.90" stroke="#555" stroke-width="0.8" />
<line x1="442.95" y1="380.40" x2="442.95" y2="382.90" stroke="#555" stroke-width="0.8" />
<text x="442.95" y="389.60" font-size="8.7" font-weight="bold" text-anchor="middle" fill="#000" >600</text>
<line x1="455.24" y1="380.40" x2="455.24" y2="381.90" stroke="#555" stroke-width="0.8" />
<line x1="467.53" y1="380.40" x2="467.53" y2="382.90" stroke="#555" stroke-width="0.8" />
<text x="467.53" y="389.60" font-size="8.7" font-weight="bold" text-anchor="middle" fill="#000" >800</text>
<line x1="479.83" y1="380.40" x2="479.83" y2="381.90" stroke="#555" stroke-width="0.8" />
<line x1="492.12" y1="380.40" x2="492.12" y2="382.90" stroke="#555" stroke-width="0.8" />
<text x="492.12" y="389.60" font-size="8.7" font-weight="bold" text-anchor="middle" fill="#000" >1000</text>
<line x1="504.41" y1="380.40" x2="504.41" y2="381.90" stroke="#555" stroke-width="0.8" />
<line x1="516.70" y1="380.40" x2="516.70" y2="382.90" stroke="#555" stroke-width="0.8" />
<text x="516.70" y="389.60" font-size="8.7" font-weight="bold" text-anchor="middle" fill="#000" >1200</text>
<text x="441.40" y="399.70" font-size="8.2" font-weight="bold" text-anchor="middle" fill="#000" >Time / s</text>
<g transform="translate(352.6,332.6) rotate(-90)"><text x="0" y="0" font-size="8.4" font-weight="bold" text-anchor="middle">Potential / V</text></g>
<g>
<circle cx="349.50" cy="260.10" r="2.55" fill="#050505"/>
<circle cx="351.27" cy="264.40" r="2.55" fill="#050505"/>
<circle cx="353.05" cy="264.40" r="2.55" fill="#050505"/>
<circle cx="354.82" cy="264.40" r="2.55" fill="#050505"/>
<circle cx="356.60" cy="264.40" r="2.55" fill="#050505"/>
<circle cx="358.38" cy="264.40" r="2.55" fill="#050505"/>
<circle cx="358.38" cy="268.70" r="2.55" fill="#050505"/>
<circle cx="360.15" cy="268.70" r="2.55" fill="#050505"/>
<circle cx="361.93" cy="268.70" r="2.55" fill="#050505"/>
<circle cx="363.70" cy="268.70" r="2.55" fill="#050505"/>
<circle cx="365.48" cy="268.70" r="2.55" fill="#050505"/>
<circle cx="367.25" cy="268.70" r="2.55" fill="#050505"/>
<circle cx="369.02" cy="268.70" r="2.55" fill="#050505"/>
<circle cx="370.80" cy="268.70" r="2.55" fill="#050505"/>
<circle cx="370.80" cy="272.90" r="2.55" fill="#050505"/>
<circle cx="372.57" cy="272.90" r="2.55" fill="#050505"/>
<circle cx="374.35" cy="272.90" r="2.55" fill="#050505"/>
<circle cx="376.12" cy="272.90" r="2.55" fill="#050505"/>
<circle cx="377.90" cy="272.90" r="2.55" fill="#050505"/>
<circle cx="379.68" cy="272.90" r="2.55" fill="#050505"/>
<circle cx="381.45" cy="272.90" r="2.55" fill="#050505"/>
<circle cx="383.23" cy="272.90" r="2.55" fill="#050505"/>
<circle cx="385.00" cy="272.90" r="2.55" fill="#050505"/>
<circle cx="386.77" cy="272.90" r="2.55" fill="#050505"/>
<circle cx="388.55" cy="272.90" r="2.55" fill="#050505"/>
<circle cx="390.32" cy="272.90" r="2.55" fill="#050505"/>
<circle cx="392.10" cy="272.90" r="2.55" fill="#050505"/>
<circle cx="393.88" cy="272.90" r="2.55" fill="#050505"/>
<circle cx="395.65" cy="272.90" r="2.55" fill="#050505"/>
<circle cx="397.43" cy="272.90" r="2.55" fill="#050505"/>
<circle cx="399.20" cy="272.90" r="2.55" fill="#050505"/>
<circle cx="400.98" cy="272.90" r="2.55" fill="#050505"/>
<circle cx="402.75" cy="272.90" r="2.55" fill="#050505"/>
<circle cx="400.98" cy="277.10" r="2.55" fill="#050505"/>
<circle cx="402.75" cy="277.10" r="2.55" fill="#050505"/>
<circle cx="404.52" cy="277.10" r="2.55" fill="#050505"/>
<circle cx="406.30" cy="277.10" r="2.55" fill="#050505"/>
<circle cx="408.07" cy="277.10" r="2.55" fill="#050505"/>
<circle cx="409.85" cy="277.10" r="2.55" fill="#050505"/>
<circle cx="411.62" cy="277.10" r="2.55" fill="#050505"/>
<circle cx="413.40" cy="277.10" r="2.55" fill="#050505"/>
<circle cx="415.18" cy="277.10" r="2.55" fill="#050505"/>
<circle cx="416.95" cy="277.10" r="2.55" fill="#050505"/>
<circle cx="418.73" cy="277.10" r="2.55" fill="#050505"/>
<circle cx="420.50" cy="277.10" r="2.55" fill="#050505"/>
<circle cx="422.27" cy="277.10" r="2.55" fill="#050505"/>
<circle cx="424.05" cy="277.10" r="2.55" fill="#050505"/>
<circle cx="425.82" cy="277.10" r="2.55" fill="#050505"/>
<circle cx="427.60" cy="277.10" r="2.55" fill="#050505"/>
<circle cx="429.38" cy="277.10" r="2.55" fill="#050505"/>
<circle cx="431.15" cy="277.10" r="2.55" fill="#050505"/>
<circle cx="432.93" cy="277.10" r="2.55" fill="#050505"/>
<circle cx="434.70" cy="277.10" r="2.55" fill="#050505"/>
<circle cx="436.48" cy="277.10" r="2.55" fill="#050505"/>
<circle cx="438.25" cy="277.10" r="2.55" fill="#050505"/>
<circle cx="440.02" cy="277.10" r="2.55" fill="#050505"/>
<circle cx="441.80" cy="277.10" r="2.55" fill="#050505"/>
<circle cx="443.57" cy="277.10" r="2.55" fill="#050505"/>
<circle cx="445.35" cy="277.10" r="2.55" fill="#050505"/>
<circle cx="447.12" cy="277.10" r="2.55" fill="#050505"/>
<circle cx="448.90" cy="277.10" r="2.55" fill="#050505"/>
<circle cx="450.68" cy="277.10" r="2.55" fill="#050505"/>
<circle cx="452.45" cy="277.10" r="2.55" fill="#050505"/>
<circle cx="454.23" cy="277.10" r="2.55" fill="#050505"/>
<circle cx="456.00" cy="277.10" r="2.55" fill="#050505"/>
<circle cx="457.77" cy="277.10" r="2.55" fill="#050505"/>
<circle cx="459.55" cy="277.10" r="2.55" fill="#050505"/>
<circle cx="461.32" cy="277.10" r="2.55" fill="#050505"/>
<circle cx="463.10" cy="277.10" r="2.55" fill="#050505"/>
<circle cx="464.88" cy="277.10" r="2.55" fill="#050505"/>
<circle cx="466.65" cy="277.10" r="2.55" fill="#050505"/>
<circle cx="468.43" cy="277.10" r="2.55" fill="#050505"/>
<circle cx="470.20" cy="277.10" r="2.55" fill="#050505"/>
<circle cx="471.98" cy="277.10" r="2.55" fill="#050505"/>
<circle cx="473.75" cy="277.10" r="2.55" fill="#050505"/>
<circle cx="475.52" cy="277.10" r="2.55" fill="#050505"/>
<circle cx="477.30" cy="277.10" r="2.55" fill="#050505"/>
<circle cx="479.07" cy="277.10" r="2.55" fill="#050505"/>
<circle cx="480.85" cy="277.10" r="2.55" fill="#050505"/>
<circle cx="482.62" cy="277.10" r="2.55" fill="#050505"/>
<circle cx="479.07" cy="281.30" r="2.55" fill="#050505"/>
<circle cx="480.85" cy="281.30" r="2.55" fill="#050505"/>
<circle cx="482.62" cy="281.30" r="2.55" fill="#050505"/>
<circle cx="484.40" cy="281.30" r="2.55" fill="#050505"/>
<circle cx="486.17" cy="281.30" r="2.55" fill="#050505"/>
<circle cx="487.95" cy="281.30" r="2.55" fill="#050505"/>
<circle cx="489.73" cy="281.30" r="2.55" fill="#050505"/>
<circle cx="491.50" cy="281.30" r="2.55" fill="#050505"/>
<circle cx="493.27" cy="281.30" r="2.55" fill="#050505"/>
<circle cx="495.05" cy="281.30" r="2.55" fill="#050505"/>
<circle cx="496.82" cy="281.30" r="2.55" fill="#050505"/>
<circle cx="498.60" cy="281.30" r="2.55" fill="#050505"/>
<circle cx="500.38" cy="281.30" r="2.55" fill="#050505"/>
<circle cx="502.15" cy="281.30" r="2.55" fill="#050505"/>
<circle cx="503.92" cy="281.30" r="2.55" fill="#050505"/>
<circle cx="505.70" cy="281.30" r="2.55" fill="#050505"/>
<circle cx="507.48" cy="281.30" r="2.55" fill="#050505"/>
<circle cx="509.25" cy="281.30" r="2.55" fill="#050505"/>
<circle cx="511.02" cy="281.30" r="2.55" fill="#050505"/>
<circle cx="512.80" cy="281.30" r="2.55" fill="#050505"/>
<circle cx="514.58" cy="281.30" r="2.55" fill="#050505"/>
<circle cx="516.35" cy="281.30" r="2.55" fill="#050505"/>
<circle cx="518.12" cy="281.30" r="2.55" fill="#050505"/>
<circle cx="519.90" cy="281.30" r="2.55" fill="#050505"/>
<circle cx="521.67" cy="281.30" r="2.55" fill="#050505"/>
<circle cx="523.45" cy="281.30" r="2.55" fill="#050505"/>
<circle cx="525.23" cy="281.30" r="2.55" fill="#050505"/>
<circle cx="527.00" cy="281.30" r="2.55" fill="#050505"/>
<circle cx="377.72" cy="268.70" r="2.55" fill="#050505"/>
<circle cx="382.69" cy="268.70" r="2.55" fill="#050505"/>
<circle cx="432.93" cy="281.30" r="2.55" fill="#050505"/>
<circle cx="434.70" cy="281.30" r="2.55" fill="#050505"/>
<circle cx="440.02" cy="281.30" r="2.55" fill="#050505"/>
<circle cx="441.80" cy="281.30" r="2.55" fill="#050505"/>
<circle cx="443.57" cy="281.30" r="2.55" fill="#050505"/>
<circle cx="445.35" cy="281.30" r="2.55" fill="#050505"/>
<circle cx="450.32" cy="281.30" r="2.55" fill="#050505"/>
<circle cx="452.10" cy="281.30" r="2.55" fill="#050505"/>
<circle cx="349.30" cy="259.40" r="0.55" fill="#c0c0c0"/>
<circle cx="351.07" cy="263.70" r="0.55" fill="#c0c0c0"/>
<circle cx="352.85" cy="263.70" r="0.55" fill="#c0c0c0"/>
<circle cx="354.62" cy="263.70" r="0.55" fill="#c0c0c0"/>
<circle cx="356.40" cy="263.70" r="0.55" fill="#c0c0c0"/>
<circle cx="358.18" cy="263.70" r="0.55" fill="#c0c0c0"/>
<circle cx="358.18" cy="268.00" r="0.55" fill="#c0c0c0"/>
<circle cx="359.95" cy="268.00" r="0.55" fill="#c0c0c0"/>
<circle cx="361.73" cy="268.00" r="0.55" fill="#c0c0c0"/>
<circle cx="363.50" cy="268.00" r="0.55" fill="#c0c0c0"/>
<circle cx="365.28" cy="268.00" r="0.55" fill="#c0c0c0"/>
<circle cx="367.05" cy="268.00" r="0.55" fill="#c0c0c0"/>
<circle cx="368.82" cy="268.00" r="0.55" fill="#c0c0c0"/>
<circle cx="370.60" cy="268.00" r="0.55" fill="#c0c0c0"/>
<circle cx="370.60" cy="272.20" r="0.55" fill="#c0c0c0"/>
<circle cx="372.38" cy="272.20" r="0.55" fill="#c0c0c0"/>
<circle cx="374.15" cy="272.20" r="0.55" fill="#c0c0c0"/>
<circle cx="375.93" cy="272.20" r="0.55" fill="#c0c0c0"/>
<circle cx="377.70" cy="272.20" r="0.55" fill="#c0c0c0"/>
<circle cx="379.48" cy="272.20" r="0.55" fill="#c0c0c0"/>
<circle cx="381.25" cy="272.20" r="0.55" fill="#c0c0c0"/>
<circle cx="383.03" cy="272.20" r="0.55" fill="#c0c0c0"/>
<circle cx="384.80" cy="272.20" r="0.55" fill="#c0c0c0"/>
<circle cx="386.57" cy="272.20" r="0.55" fill="#c0c0c0"/>
<circle cx="388.35" cy="272.20" r="0.55" fill="#c0c0c0"/>
<circle cx="390.12" cy="272.20" r="0.55" fill="#c0c0c0"/>
<circle cx="391.90" cy="272.20" r="0.55" fill="#c0c0c0"/>
<circle cx="393.68" cy="272.20" r="0.55" fill="#c0c0c0"/>
<circle cx="395.45" cy="272.20" r="0.55" fill="#c0c0c0"/>
<circle cx="397.23" cy="272.20" r="0.55" fill="#c0c0c0"/>
<circle cx="399.00" cy="272.20" r="0.55" fill="#c0c0c0"/>
<circle cx="400.78" cy="272.20" r="0.55" fill="#c0c0c0"/>
<circle cx="402.55" cy="272.20" r="0.55" fill="#c0c0c0"/>
<circle cx="400.78" cy="276.40" r="0.55" fill="#c0c0c0"/>
<circle cx="402.55" cy="276.40" r="0.55" fill="#c0c0c0"/>
<circle cx="404.32" cy="276.40" r="0.55" fill="#c0c0c0"/>
<circle cx="406.10" cy="276.40" r="0.55" fill="#c0c0c0"/>
<circle cx="407.88" cy="276.40" r="0.55" fill="#c0c0c0"/>
<circle cx="409.65" cy="276.40" r="0.55" fill="#c0c0c0"/>
<circle cx="411.43" cy="276.40" r="0.55" fill="#c0c0c0"/>
<circle cx="413.20" cy="276.40" r="0.55" fill="#c0c0c0"/>
<circle cx="414.98" cy="276.40" r="0.55" fill="#c0c0c0"/>
<circle cx="416.75" cy="276.40" r="0.55" fill="#c0c0c0"/>
<circle cx="418.53" cy="276.40" r="0.55" fill="#c0c0c0"/>
<circle cx="420.30" cy="276.40" r="0.55" fill="#c0c0c0"/>
<circle cx="422.07" cy="276.40" r="0.55" fill="#c0c0c0"/>
<circle cx="423.85" cy="276.40" r="0.55" fill="#c0c0c0"/>
<circle cx="425.62" cy="276.40" r="0.55" fill="#c0c0c0"/>
<circle cx="427.40" cy="276.40" r="0.55" fill="#c0c0c0"/>
<circle cx="429.18" cy="276.40" r="0.55" fill="#c0c0c0"/>
<circle cx="430.95" cy="276.40" r="0.55" fill="#c0c0c0"/>
<circle cx="432.73" cy="276.40" r="0.55" fill="#c0c0c0"/>
<circle cx="434.50" cy="276.40" r="0.55" fill="#c0c0c0"/>
<circle cx="436.28" cy="276.40" r="0.55" fill="#c0c0c0"/>
<circle cx="438.05" cy="276.40" r="0.55" fill="#c0c0c0"/>
<circle cx="439.82" cy="276.40" r="0.55" fill="#c0c0c0"/>
<circle cx="441.60" cy="276.40" r="0.55" fill="#c0c0c0"/>
<circle cx="443.38" cy="276.40" r="0.55" fill="#c0c0c0"/>
<circle cx="445.15" cy="276.40" r="0.55" fill="#c0c0c0"/>
<circle cx="446.93" cy="276.40" r="0.55" fill="#c0c0c0"/>
<circle cx="448.70" cy="276.40" r="0.55" fill="#c0c0c0"/>
<circle cx="450.48" cy="276.40" r="0.55" fill="#c0c0c0"/>
<circle cx="452.25" cy="276.40" r="0.55" fill="#c0c0c0"/>
<circle cx="454.03" cy="276.40" r="0.55" fill="#c0c0c0"/>
<circle cx="455.80" cy="276.40" r="0.55" fill="#c0c0c0"/>
<circle cx="457.57" cy="276.40" r="0.55" fill="#c0c0c0"/>
<circle cx="459.35" cy="276.40" r="0.55" fill="#c0c0c0"/>
<circle cx="461.12" cy="276.40" r="0.55" fill="#c0c0c0"/>
<circle cx="462.90" cy="276.40" r="0.55" fill="#c0c0c0"/>
<circle cx="464.68" cy="276.40" r="0.55" fill="#c0c0c0"/>
<circle cx="466.45" cy="276.40" r="0.55" fill="#c0c0c0"/>
<circle cx="468.23" cy="276.40" r="0.55" fill="#c0c0c0"/>
<circle cx="470.00" cy="276.40" r="0.55" fill="#c0c0c0"/>
<circle cx="471.78" cy="276.40" r="0.55" fill="#c0c0c0"/>
<circle cx="473.55" cy="276.40" r="0.55" fill="#c0c0c0"/>
<circle cx="475.32" cy="276.40" r="0.55" fill="#c0c0c0"/>
<circle cx="477.10" cy="276.40" r="0.55" fill="#c0c0c0"/>
<circle cx="478.88" cy="276.40" r="0.55" fill="#c0c0c0"/>
<circle cx="480.65" cy="276.40" r="0.55" fill="#c0c0c0"/>
<circle cx="482.43" cy="276.40" r="0.55" fill="#c0c0c0"/>
<circle cx="478.88" cy="280.60" r="0.55" fill="#c0c0c0"/>
<circle cx="480.65" cy="280.60" r="0.55" fill="#c0c0c0"/>
<circle cx="482.43" cy="280.60" r="0.55" fill="#c0c0c0"/>
<circle cx="484.20" cy="280.60" r="0.55" fill="#c0c0c0"/>
<circle cx="485.97" cy="280.60" r="0.55" fill="#c0c0c0"/>
<circle cx="487.75" cy="280.60" r="0.55" fill="#c0c0c0"/>
<circle cx="489.53" cy="280.60" r="0.55" fill="#c0c0c0"/>
<circle cx="491.30" cy="280.60" r="0.55" fill="#c0c0c0"/>
<circle cx="493.07" cy="280.60" r="0.55" fill="#c0c0c0"/>
<circle cx="494.85" cy="280.60" r="0.55" fill="#c0c0c0"/>
<circle cx="496.62" cy="280.60" r="0.55" fill="#c0c0c0"/>
<circle cx="498.40" cy="280.60" r="0.55" fill="#c0c0c0"/>
<circle cx="500.18" cy="280.60" r="0.55" fill="#c0c0c0"/>
<circle cx="501.95" cy="280.60" r="0.55" fill="#c0c0c0"/>
<circle cx="503.72" cy="280.60" r="0.55" fill="#c0c0c0"/>
<circle cx="505.50" cy="280.60" r="0.55" fill="#c0c0c0"/>
<circle cx="507.28" cy="280.60" r="0.55" fill="#c0c0c0"/>
<circle cx="509.05" cy="280.60" r="0.55" fill="#c0c0c0"/>
<circle cx="510.82" cy="280.60" r="0.55" fill="#c0c0c0"/>
<circle cx="512.60" cy="280.60" r="0.55" fill="#c0c0c0"/>
<circle cx="514.38" cy="280.60" r="0.55" fill="#c0c0c0"/>
<circle cx="516.15" cy="280.60" r="0.55" fill="#c0c0c0"/>
<circle cx="517.92" cy="280.60" r="0.55" fill="#c0c0c0"/>
<circle cx="519.70" cy="280.60" r="0.55" fill="#c0c0c0"/>
<circle cx="521.47" cy="280.60" r="0.55" fill="#c0c0c0"/>
<circle cx="523.25" cy="280.60" r="0.55" fill="#c0c0c0"/>
<circle cx="525.02" cy="280.60" r="0.55" fill="#c0c0c0"/>
<circle cx="526.80" cy="280.60" r="0.55" fill="#c0c0c0"/>
<circle cx="377.52" cy="268.00" r="0.55" fill="#c0c0c0"/>
<circle cx="382.49" cy="268.00" r="0.55" fill="#c0c0c0"/>
<circle cx="432.73" cy="280.60" r="0.55" fill="#c0c0c0"/>
<circle cx="434.50" cy="280.60" r="0.55" fill="#c0c0c0"/>
<circle cx="439.82" cy="280.60" r="0.55" fill="#c0c0c0"/>
<circle cx="441.60" cy="280.60" r="0.55" fill="#c0c0c0"/>
<circle cx="443.38" cy="280.60" r="0.55" fill="#c0c0c0"/>
<circle cx="445.15" cy="280.60" r="0.55" fill="#c0c0c0"/>
<circle cx="450.12" cy="280.60" r="0.55" fill="#c0c0c0"/>
<circle cx="451.90" cy="280.60" r="0.55" fill="#c0c0c0"/>
</g>
<rect x="340.50" y="246.10" width="195.20" height="157.00" fill="none" stroke="#4a4a4a" stroke-width="1.1"/>
<line x1="337.50" y1="403.10" x2="340.50" y2="403.10" stroke="#4a4a4a" stroke-width="1.0" />
<text x="335.20" y="407.70" font-size="12.8" font-weight="bold" text-anchor="end" fill="#000" >0</text>
<line x1="338.50" y1="388.83" x2="340.50" y2="388.83" stroke="#4a4a4a" stroke-width="1.0" />
<line x1="337.50" y1="374.55" x2="340.50" y2="374.55" stroke="#4a4a4a" stroke-width="1.0" />
<text x="335.20" y="379.15" font-size="12.8" font-weight="bold" text-anchor="end" fill="#000" >20</text>
<line x1="338.50" y1="360.28" x2="340.50" y2="360.28" stroke="#4a4a4a" stroke-width="1.0" />
<line x1="337.50" y1="346.01" x2="340.50" y2="346.01" stroke="#4a4a4a" stroke-width="1.0" />
<text x="335.20" y="350.61" font-size="12.8" font-weight="bold" text-anchor="end" fill="#000" >40</text>
<line x1="338.50" y1="331.74" x2="340.50" y2="331.74" stroke="#4a4a4a" stroke-width="1.0" />
<line x1="337.50" y1="317.46" x2="340.50" y2="317.46" stroke="#4a4a4a" stroke-width="1.0" />
<text x="335.20" y="322.06" font-size="12.8" font-weight="bold" text-anchor="end" fill="#000" >60</text>
<line x1="338.50" y1="303.19" x2="340.50" y2="303.19" stroke="#4a4a4a" stroke-width="1.0" />
<line x1="337.50" y1="288.92" x2="340.50" y2="288.92" stroke="#4a4a4a" stroke-width="1.0" />
<text x="335.20" y="293.52" font-size="12.8" font-weight="bold" text-anchor="end" fill="#000" >80</text>
<line x1="338.50" y1="274.64" x2="340.50" y2="274.64" stroke="#4a4a4a" stroke-width="1.0" />
<line x1="337.50" y1="260.37" x2="340.50" y2="260.37" stroke="#4a4a4a" stroke-width="1.0" />
<text x="335.20" y="264.97" font-size="12.8" font-weight="bold" text-anchor="end" fill="#000" >100</text>
<line x1="338.50" y1="246.10" x2="340.50" y2="246.10" stroke="#4a4a4a" stroke-width="1.0" />
<line x1="349.50" y1="403.10" x2="349.50" y2="406.10" stroke="#4a4a4a" stroke-width="1.0" />
<text x="349.50" y="419.40" font-size="12.8" font-weight="bold" text-anchor="middle" fill="#000" >0</text>
<line x1="367.25" y1="403.10" x2="367.25" y2="405.10" stroke="#4a4a4a" stroke-width="1.0" />
<line x1="385.00" y1="403.10" x2="385.00" y2="406.10" stroke="#4a4a4a" stroke-width="1.0" />
<text x="385.00" y="419.40" font-size="12.8" font-weight="bold" text-anchor="middle" fill="#000" >200</text>
<line x1="402.75" y1="403.10" x2="402.75" y2="405.10" stroke="#4a4a4a" stroke-width="1.0" />
<line x1="420.50" y1="403.10" x2="420.50" y2="406.10" stroke="#4a4a4a" stroke-width="1.0" />
<text x="420.50" y="419.40" font-size="12.8" font-weight="bold" text-anchor="middle" fill="#000" >400</text>
<line x1="438.25" y1="403.10" x2="438.25" y2="405.10" stroke="#4a4a4a" stroke-width="1.0" />
<line x1="456.00" y1="403.10" x2="456.00" y2="406.10" stroke="#4a4a4a" stroke-width="1.0" />
<text x="456.00" y="419.40" font-size="12.8" font-weight="bold" text-anchor="middle" fill="#000" >600</text>
<line x1="473.75" y1="403.10" x2="473.75" y2="405.10" stroke="#4a4a4a" stroke-width="1.0" />
<line x1="491.50" y1="403.10" x2="491.50" y2="406.10" stroke="#4a4a4a" stroke-width="1.0" />
<text x="491.50" y="419.40" font-size="12.8" font-weight="bold" text-anchor="middle" fill="#000" >800</text>
<line x1="509.25" y1="403.10" x2="509.25" y2="405.10" stroke="#4a4a4a" stroke-width="1.0" />
<line x1="527.00" y1="403.10" x2="527.00" y2="406.10" stroke="#4a4a4a" stroke-width="1.0" />
<text x="527.00" y="419.40" font-size="12.8" font-weight="bold" text-anchor="middle" fill="#000" >1000</text>
<text x="442.50" y="433.20" font-size="13.5" font-weight="bold" text-anchor="middle" fill="#000" >Cycle Number</text>
<g transform="translate(307.8,324.1) rotate(-90)"><text x="0" y="0" font-size="13.2" font-weight="bold" text-anchor="middle">Capacitance Retention / %</text></g>
<text x="291" y="233.6" font-size="37" style="font-family:&quot;Liberation Serif&quot;,serif" fill="#000">d</text>
</svg></body></html>
